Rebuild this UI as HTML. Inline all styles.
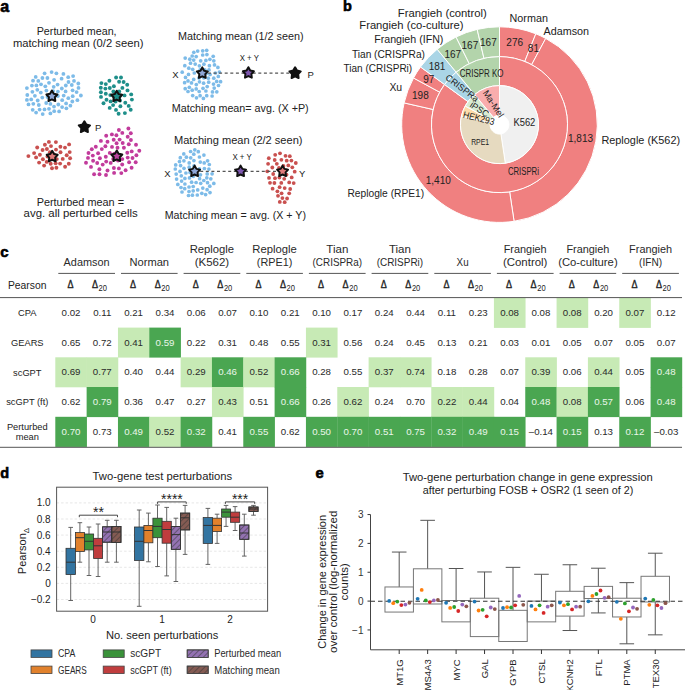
<!DOCTYPE html>
<html><head><meta charset="utf-8"><style>
html,body{margin:0;padding:0;background:#fff;}
svg{display:block;}
text{font-family:"Liberation Sans", sans-serif;}
</style></head><body>
<svg width="685" height="690" viewBox="0 0 685 690">
<rect width="685" height="690" fill="#fff"/>
<text x="0.3" y="11.7" font-size="16" fill="#000" font-weight="bold" stroke="#000" stroke-width="0.6">a</text>
<text x="36.7" y="34.7" font-size="11.2" fill="#222" textLength="79.9" lengthAdjust="spacingAndGlyphs">Perturbed mean,</text>
<text x="12.9" y="47.1" font-size="11.2" fill="#222" textLength="130.5" lengthAdjust="spacingAndGlyphs">matching mean (0/2 seen)</text>
<circle cx="32.7" cy="109.8" r="1.9" fill="#7dbbe8"/>
<circle cx="68.5" cy="82.0" r="1.9" fill="#7dbbe8"/>
<circle cx="53.2" cy="91.1" r="1.9" fill="#7dbbe8"/>
<circle cx="62.1" cy="107.1" r="1.9" fill="#7dbbe8"/>
<circle cx="72.6" cy="90.3" r="1.9" fill="#7dbbe8"/>
<circle cx="50.4" cy="103.9" r="1.9" fill="#7dbbe8"/>
<circle cx="78.5" cy="87.9" r="1.9" fill="#7dbbe8"/>
<circle cx="37.3" cy="89.8" r="1.9" fill="#7dbbe8"/>
<circle cx="38.3" cy="80.9" r="1.9" fill="#7dbbe8"/>
<circle cx="72.7" cy="96.2" r="1.9" fill="#7dbbe8"/>
<circle cx="61.6" cy="78.7" r="1.9" fill="#7dbbe8"/>
<circle cx="31.9" cy="85.6" r="1.9" fill="#7dbbe8"/>
<circle cx="66.1" cy="103.4" r="1.9" fill="#7dbbe8"/>
<circle cx="72.3" cy="101.5" r="1.9" fill="#7dbbe8"/>
<circle cx="42.3" cy="97.6" r="1.9" fill="#7dbbe8"/>
<circle cx="53.8" cy="97.7" r="1.9" fill="#7dbbe8"/>
<circle cx="34.9" cy="95.8" r="1.9" fill="#7dbbe8"/>
<circle cx="46.4" cy="90.6" r="1.9" fill="#7dbbe8"/>
<circle cx="54.0" cy="106.6" r="1.9" fill="#7dbbe8"/>
<circle cx="47.4" cy="78.0" r="1.9" fill="#7dbbe8"/>
<circle cx="74.0" cy="80.9" r="1.9" fill="#7dbbe8"/>
<circle cx="57.9" cy="91.6" r="1.9" fill="#7dbbe8"/>
<circle cx="45.3" cy="86.3" r="1.9" fill="#7dbbe8"/>
<circle cx="39.6" cy="109.6" r="1.9" fill="#7dbbe8"/>
<circle cx="63.4" cy="73.9" r="1.9" fill="#7dbbe8"/>
<circle cx="31.2" cy="99.4" r="1.9" fill="#7dbbe8"/>
<circle cx="44.6" cy="73.3" r="1.9" fill="#7dbbe8"/>
<circle cx="65.6" cy="91.4" r="1.9" fill="#7dbbe8"/>
<circle cx="54.1" cy="79.8" r="1.9" fill="#7dbbe8"/>
<circle cx="33.3" cy="103.8" r="1.9" fill="#7dbbe8"/>
<circle cx="63.7" cy="95.6" r="1.9" fill="#7dbbe8"/>
<circle cx="37.7" cy="100.5" r="1.9" fill="#7dbbe8"/>
<circle cx="47.5" cy="97.1" r="1.9" fill="#7dbbe8"/>
<circle cx="42.7" cy="114.1" r="1.9" fill="#7dbbe8"/>
<circle cx="36.4" cy="85.4" r="1.9" fill="#7dbbe8"/>
<circle cx="68.3" cy="98.2" r="1.9" fill="#7dbbe8"/>
<circle cx="38.8" cy="105.0" r="1.9" fill="#7dbbe8"/>
<circle cx="80.9" cy="95.5" r="1.9" fill="#7dbbe8"/>
<circle cx="62.2" cy="100.2" r="1.9" fill="#7dbbe8"/>
<circle cx="56.4" cy="73.3" r="1.9" fill="#7dbbe8"/>
<circle cx="71.8" cy="85.0" r="1.9" fill="#7dbbe8"/>
<circle cx="54.2" cy="111.2" r="1.9" fill="#7dbbe8"/>
<circle cx="46.2" cy="103.0" r="1.9" fill="#7dbbe8"/>
<circle cx="50.4" cy="113.4" r="1.9" fill="#7dbbe8"/>
<circle cx="57.6" cy="84.6" r="1.9" fill="#7dbbe8"/>
<circle cx="53.7" cy="86.8" r="1.9" fill="#7dbbe8"/>
<circle cx="59.1" cy="111.4" r="1.9" fill="#7dbbe8"/>
<circle cx="42.4" cy="78.0" r="1.9" fill="#7dbbe8"/>
<circle cx="58.3" cy="104.5" r="1.9" fill="#7dbbe8"/>
<circle cx="51.6" cy="72.1" r="1.9" fill="#7dbbe8"/>
<circle cx="44.5" cy="109.4" r="1.9" fill="#7dbbe8"/>
<circle cx="65.8" cy="85.5" r="1.9" fill="#7dbbe8"/>
<circle cx="68.2" cy="77.2" r="1.9" fill="#7dbbe8"/>
<circle cx="32.4" cy="91.8" r="1.9" fill="#7dbbe8"/>
<circle cx="27.3" cy="95.0" r="1.9" fill="#7dbbe8"/>
<circle cx="26.9" cy="88.1" r="1.9" fill="#7dbbe8"/>
<circle cx="66.4" cy="108.3" r="1.9" fill="#7dbbe8"/>
<circle cx="77.4" cy="100.2" r="1.9" fill="#7dbbe8"/>
<circle cx="57.9" cy="96.0" r="1.9" fill="#7dbbe8"/>
<circle cx="49.0" cy="82.8" r="1.9" fill="#7dbbe8"/>
<circle cx="61.8" cy="88.5" r="1.9" fill="#7dbbe8"/>
<circle cx="76.6" cy="92.1" r="1.9" fill="#7dbbe8"/>
<circle cx="40.8" cy="92.6" r="1.9" fill="#7dbbe8"/>
<circle cx="28.5" cy="104.4" r="1.9" fill="#7dbbe8"/>
<circle cx="33.0" cy="80.7" r="1.9" fill="#7dbbe8"/>
<circle cx="26.9" cy="99.9" r="1.9" fill="#7dbbe8"/>
<circle cx="36.1" cy="112.6" r="1.9" fill="#7dbbe8"/>
<circle cx="73.1" cy="76.1" r="1.9" fill="#7dbbe8"/>
<circle cx="41.0" cy="84.3" r="1.9" fill="#7dbbe8"/>
<circle cx="70.4" cy="105.7" r="1.9" fill="#7dbbe8"/>
<circle cx="49.0" cy="108.8" r="1.9" fill="#7dbbe8"/>
<circle cx="35.7" cy="76.9" r="1.9" fill="#7dbbe8"/>
<circle cx="78.3" cy="83.5" r="1.9" fill="#7dbbe8"/>
<polygon points="51.90,90.52 53.73,93.77 57.40,94.51 54.87,97.26 55.30,100.98 51.90,99.42 48.50,100.98 48.93,97.26 46.40,94.51 50.07,93.77" fill="#8ea6d6" stroke="#111" stroke-width="2.0" stroke-linejoin="round"/>
<circle cx="128.7" cy="105.9" r="1.95" fill="#1e8f8a"/>
<circle cx="122.4" cy="87.9" r="1.95" fill="#1e8f8a"/>
<circle cx="120.0" cy="100.5" r="1.95" fill="#1e8f8a"/>
<circle cx="119.1" cy="81.7" r="1.95" fill="#1e8f8a"/>
<circle cx="113.4" cy="91.5" r="1.95" fill="#1e8f8a"/>
<circle cx="113.9" cy="86.3" r="1.95" fill="#1e8f8a"/>
<circle cx="109.4" cy="80.7" r="1.95" fill="#1e8f8a"/>
<circle cx="124.9" cy="113.1" r="1.95" fill="#1e8f8a"/>
<circle cx="114.5" cy="97.3" r="1.95" fill="#1e8f8a"/>
<circle cx="116.0" cy="109.9" r="1.95" fill="#1e8f8a"/>
<circle cx="131.2" cy="94.4" r="1.95" fill="#1e8f8a"/>
<circle cx="118.6" cy="113.7" r="1.95" fill="#1e8f8a"/>
<circle cx="124.5" cy="95.4" r="1.95" fill="#1e8f8a"/>
<circle cx="105.4" cy="88.6" r="1.95" fill="#1e8f8a"/>
<circle cx="123.6" cy="82.0" r="1.95" fill="#1e8f8a"/>
<circle cx="101.0" cy="96.9" r="1.95" fill="#1e8f8a"/>
<circle cx="113.1" cy="105.1" r="1.95" fill="#1e8f8a"/>
<circle cx="103.5" cy="103.3" r="1.95" fill="#1e8f8a"/>
<circle cx="120.4" cy="106.2" r="1.95" fill="#1e8f8a"/>
<circle cx="119.2" cy="91.5" r="1.95" fill="#1e8f8a"/>
<circle cx="105.8" cy="93.7" r="1.95" fill="#1e8f8a"/>
<circle cx="106.5" cy="99.8" r="1.95" fill="#1e8f8a"/>
<circle cx="105.8" cy="84.1" r="1.95" fill="#1e8f8a"/>
<circle cx="127.5" cy="90.4" r="1.95" fill="#1e8f8a"/>
<circle cx="100.8" cy="87.8" r="1.95" fill="#1e8f8a"/>
<circle cx="131.9" cy="99.6" r="1.95" fill="#1e8f8a"/>
<circle cx="125.3" cy="102.7" r="1.95" fill="#1e8f8a"/>
<circle cx="127.2" cy="84.8" r="1.95" fill="#1e8f8a"/>
<circle cx="116.1" cy="77.5" r="1.95" fill="#1e8f8a"/>
<circle cx="109.8" cy="88.0" r="1.95" fill="#1e8f8a"/>
<circle cx="109.7" cy="107.9" r="1.95" fill="#1e8f8a"/>
<circle cx="100.9" cy="92.3" r="1.95" fill="#1e8f8a"/>
<circle cx="110.3" cy="95.1" r="1.95" fill="#1e8f8a"/>
<circle cx="110.6" cy="101.4" r="1.95" fill="#1e8f8a"/>
<circle cx="121.0" cy="77.5" r="1.95" fill="#1e8f8a"/>
<circle cx="130.7" cy="109.8" r="1.95" fill="#1e8f8a"/>
<circle cx="119.6" cy="96.0" r="1.95" fill="#1e8f8a"/>
<circle cx="101.4" cy="83.1" r="1.95" fill="#1e8f8a"/>
<circle cx="115.6" cy="101.5" r="1.95" fill="#1e8f8a"/>
<polygon points="116.70,90.72 118.53,93.97 122.20,94.71 119.67,97.46 120.10,101.18 116.70,99.62 113.30,101.18 113.73,97.46 111.20,94.71 114.87,93.97" fill="#1e8f8a" stroke="#111" stroke-width="2.0" stroke-linejoin="round"/>
<polygon points="84.40,121.25 86.29,124.60 90.06,125.36 87.46,128.19 87.90,132.01 84.40,130.41 80.90,132.01 81.34,128.19 78.74,125.36 82.51,124.60" fill="#111" stroke="#111" stroke-width="2.0" stroke-linejoin="round"/>
<text x="95.0" y="130.5" font-size="9.5" fill="#222">P</text>
<circle cx="36.1" cy="157.4" r="1.95" fill="#c9504f"/>
<circle cx="42.9" cy="159.3" r="1.95" fill="#c9504f"/>
<circle cx="55.9" cy="142.1" r="1.95" fill="#c9504f"/>
<circle cx="37.2" cy="147.5" r="1.95" fill="#c9504f"/>
<circle cx="66.7" cy="155.2" r="1.95" fill="#c9504f"/>
<circle cx="56.4" cy="167.8" r="1.95" fill="#c9504f"/>
<circle cx="50.7" cy="163.7" r="1.95" fill="#c9504f"/>
<circle cx="62.7" cy="158.9" r="1.95" fill="#c9504f"/>
<circle cx="44.1" cy="165.6" r="1.95" fill="#c9504f"/>
<circle cx="56.0" cy="149.6" r="1.95" fill="#c9504f"/>
<circle cx="49.9" cy="152.3" r="1.95" fill="#c9504f"/>
<circle cx="70.1" cy="158.2" r="1.95" fill="#c9504f"/>
<circle cx="60.4" cy="146.8" r="1.95" fill="#c9504f"/>
<circle cx="44.9" cy="144.8" r="1.95" fill="#c9504f"/>
<circle cx="34.1" cy="153.1" r="1.95" fill="#c9504f"/>
<circle cx="69.7" cy="152.1" r="1.95" fill="#c9504f"/>
<circle cx="47.5" cy="156.6" r="1.95" fill="#c9504f"/>
<circle cx="56.8" cy="159.1" r="1.95" fill="#c9504f"/>
<circle cx="60.1" cy="163.6" r="1.95" fill="#c9504f"/>
<circle cx="42.6" cy="150.0" r="1.95" fill="#c9504f"/>
<circle cx="65.0" cy="147.6" r="1.95" fill="#c9504f"/>
<circle cx="51.0" cy="146.1" r="1.95" fill="#c9504f"/>
<circle cx="65.1" cy="166.8" r="1.95" fill="#c9504f"/>
<circle cx="28.4" cy="156.1" r="1.95" fill="#c9504f"/>
<circle cx="60.5" cy="152.2" r="1.95" fill="#c9504f"/>
<circle cx="39.1" cy="162.6" r="1.95" fill="#c9504f"/>
<circle cx="52.2" cy="158.7" r="1.95" fill="#c9504f"/>
<circle cx="39.9" cy="154.8" r="1.95" fill="#c9504f"/>
<circle cx="52.0" cy="168.3" r="1.95" fill="#c9504f"/>
<circle cx="69.1" cy="144.4" r="1.95" fill="#c9504f"/>
<circle cx="68.8" cy="163.7" r="1.95" fill="#c9504f"/>
<circle cx="54.0" cy="154.4" r="1.95" fill="#c9504f"/>
<circle cx="48.9" cy="141.9" r="1.95" fill="#c9504f"/>
<circle cx="46.9" cy="149.0" r="1.95" fill="#c9504f"/>
<circle cx="55.6" cy="163.3" r="1.95" fill="#c9504f"/>
<circle cx="46.7" cy="161.9" r="1.95" fill="#c9504f"/>
<polygon points="52.20,150.82 54.03,154.07 57.70,154.81 55.17,157.56 55.60,161.28 52.20,159.72 48.80,161.28 49.23,157.56 46.70,154.81 50.37,154.07" fill="#e07b7b" stroke="#111" stroke-width="2.0" stroke-linejoin="round"/>
<circle cx="127.7" cy="136.8" r="1.95" fill="#c23b9c"/>
<circle cx="113.7" cy="139.7" r="1.95" fill="#c23b9c"/>
<circle cx="94.1" cy="174.2" r="1.95" fill="#c23b9c"/>
<circle cx="131.6" cy="167.8" r="1.95" fill="#c23b9c"/>
<circle cx="99.9" cy="158.2" r="1.95" fill="#c23b9c"/>
<circle cx="125.6" cy="170.3" r="1.95" fill="#c23b9c"/>
<circle cx="118.0" cy="160.6" r="1.95" fill="#c23b9c"/>
<circle cx="111.9" cy="134.4" r="1.95" fill="#c23b9c"/>
<circle cx="136.4" cy="155.3" r="1.95" fill="#c23b9c"/>
<circle cx="112.0" cy="146.9" r="1.95" fill="#c23b9c"/>
<circle cx="117.5" cy="147.8" r="1.95" fill="#c23b9c"/>
<circle cx="98.1" cy="153.3" r="1.95" fill="#c23b9c"/>
<circle cx="106.2" cy="135.7" r="1.95" fill="#c23b9c"/>
<circle cx="119.6" cy="139.6" r="1.95" fill="#c23b9c"/>
<circle cx="102.7" cy="164.6" r="1.95" fill="#c23b9c"/>
<circle cx="127.7" cy="157.6" r="1.95" fill="#c23b9c"/>
<circle cx="91.8" cy="149.3" r="1.95" fill="#c23b9c"/>
<circle cx="106.0" cy="175.0" r="1.95" fill="#c23b9c"/>
<circle cx="118.9" cy="168.4" r="1.95" fill="#c23b9c"/>
<circle cx="128.8" cy="144.2" r="1.95" fill="#c23b9c"/>
<circle cx="122.3" cy="132.9" r="1.95" fill="#c23b9c"/>
<circle cx="88.5" cy="153.0" r="1.95" fill="#c23b9c"/>
<circle cx="95.8" cy="146.8" r="1.95" fill="#c23b9c"/>
<circle cx="131.7" cy="151.4" r="1.95" fill="#c23b9c"/>
<circle cx="119.7" cy="155.2" r="1.95" fill="#c23b9c"/>
<circle cx="109.8" cy="152.9" r="1.95" fill="#c23b9c"/>
<circle cx="88.0" cy="157.9" r="1.95" fill="#c23b9c"/>
<circle cx="107.5" cy="170.5" r="1.95" fill="#c23b9c"/>
<circle cx="128.4" cy="128.5" r="1.95" fill="#c23b9c"/>
<circle cx="99.4" cy="169.3" r="1.95" fill="#c23b9c"/>
<circle cx="114.1" cy="172.9" r="1.95" fill="#c23b9c"/>
<circle cx="110.7" cy="162.9" r="1.95" fill="#c23b9c"/>
<circle cx="136.0" cy="144.7" r="1.95" fill="#c23b9c"/>
<circle cx="118.9" cy="130.0" r="1.95" fill="#c23b9c"/>
<circle cx="100.9" cy="140.9" r="1.95" fill="#c23b9c"/>
<circle cx="122.2" cy="164.5" r="1.95" fill="#c23b9c"/>
<circle cx="99.5" cy="174.2" r="1.95" fill="#c23b9c"/>
<circle cx="105.8" cy="156.7" r="1.95" fill="#c23b9c"/>
<circle cx="135.7" cy="162.3" r="1.95" fill="#c23b9c"/>
<circle cx="105.4" cy="146.2" r="1.95" fill="#c23b9c"/>
<circle cx="130.9" cy="140.0" r="1.95" fill="#c23b9c"/>
<circle cx="91.0" cy="166.9" r="1.95" fill="#c23b9c"/>
<circle cx="86.0" cy="162.8" r="1.95" fill="#c23b9c"/>
<circle cx="132.5" cy="158.0" r="1.95" fill="#c23b9c"/>
<circle cx="129.1" cy="162.3" r="1.95" fill="#c23b9c"/>
<circle cx="101.8" cy="149.1" r="1.95" fill="#c23b9c"/>
<circle cx="121.3" cy="173.1" r="1.95" fill="#c23b9c"/>
<circle cx="114.3" cy="153.7" r="1.95" fill="#c23b9c"/>
<circle cx="107.5" cy="141.7" r="1.95" fill="#c23b9c"/>
<circle cx="127.3" cy="152.8" r="1.95" fill="#c23b9c"/>
<circle cx="97.2" cy="163.0" r="1.95" fill="#c23b9c"/>
<circle cx="123.9" cy="147.7" r="1.95" fill="#c23b9c"/>
<circle cx="122.7" cy="143.0" r="1.95" fill="#c23b9c"/>
<circle cx="130.8" cy="133.3" r="1.95" fill="#c23b9c"/>
<circle cx="93.1" cy="160.8" r="1.95" fill="#c23b9c"/>
<circle cx="139.3" cy="150.8" r="1.95" fill="#c23b9c"/>
<circle cx="92.8" cy="155.6" r="1.95" fill="#c23b9c"/>
<circle cx="113.9" cy="168.0" r="1.95" fill="#c23b9c"/>
<circle cx="113.2" cy="158.9" r="1.95" fill="#c23b9c"/>
<circle cx="122.3" cy="159.1" r="1.95" fill="#c23b9c"/>
<circle cx="116.6" cy="143.2" r="1.95" fill="#c23b9c"/>
<circle cx="116.4" cy="135.2" r="1.95" fill="#c23b9c"/>
<circle cx="106.2" cy="161.6" r="1.95" fill="#c23b9c"/>
<polygon points="116.80,150.52 118.63,153.77 122.30,154.51 119.77,157.26 120.20,160.98 116.80,159.42 113.40,160.98 113.83,157.26 111.30,154.51 114.97,153.77" fill="#b8449e" stroke="#111" stroke-width="2.0" stroke-linejoin="round"/>
<text x="36.7" y="205.5" font-size="11.2" fill="#222" textLength="87.3" lengthAdjust="spacingAndGlyphs">Perturbed mean =</text>
<text x="23.6" y="217.2" font-size="11.2" fill="#222" textLength="114.1" lengthAdjust="spacingAndGlyphs">avg. all perturbed cells</text>
<text x="178.1" y="40.4" font-size="11.2" fill="#222" textLength="125.4" lengthAdjust="spacingAndGlyphs">Matching mean (1/2 seen)</text>
<text x="239.7" y="61.2" font-size="9.6" fill="#222" textLength="19.2" lengthAdjust="spacingAndGlyphs">X + Y</text>
<text x="172.2" y="78.4" font-size="9.5" fill="#222">X</text>
<circle cx="207.2" cy="86.6" r="1.85" fill="#7dbbe8"/>
<circle cx="212.1" cy="96.0" r="1.85" fill="#7dbbe8"/>
<circle cx="182.2" cy="72.2" r="1.85" fill="#7dbbe8"/>
<circle cx="220.6" cy="81.7" r="1.85" fill="#7dbbe8"/>
<circle cx="200.7" cy="60.8" r="1.85" fill="#7dbbe8"/>
<circle cx="203.8" cy="77.8" r="1.85" fill="#7dbbe8"/>
<circle cx="192.7" cy="95.6" r="1.85" fill="#7dbbe8"/>
<circle cx="213.2" cy="56.3" r="1.85" fill="#7dbbe8"/>
<circle cx="206.9" cy="54.6" r="1.85" fill="#7dbbe8"/>
<circle cx="189.8" cy="59.2" r="1.85" fill="#7dbbe8"/>
<circle cx="203.6" cy="83.2" r="1.85" fill="#7dbbe8"/>
<circle cx="196.2" cy="56.6" r="1.85" fill="#7dbbe8"/>
<circle cx="193.7" cy="79.4" r="1.85" fill="#7dbbe8"/>
<circle cx="195.2" cy="64.1" r="1.85" fill="#7dbbe8"/>
<circle cx="215.4" cy="73.0" r="1.85" fill="#7dbbe8"/>
<circle cx="194.3" cy="73.0" r="1.85" fill="#7dbbe8"/>
<circle cx="212.5" cy="91.9" r="1.85" fill="#7dbbe8"/>
<circle cx="189.3" cy="87.3" r="1.85" fill="#7dbbe8"/>
<circle cx="203.0" cy="88.3" r="1.85" fill="#7dbbe8"/>
<circle cx="184.8" cy="65.7" r="1.85" fill="#7dbbe8"/>
<circle cx="206.7" cy="95.7" r="1.85" fill="#7dbbe8"/>
<circle cx="203.9" cy="64.2" r="1.85" fill="#7dbbe8"/>
<circle cx="205.9" cy="91.0" r="1.85" fill="#7dbbe8"/>
<circle cx="200.1" cy="69.9" r="1.85" fill="#7dbbe8"/>
<circle cx="196.2" cy="88.9" r="1.85" fill="#7dbbe8"/>
<circle cx="213.5" cy="84.1" r="1.85" fill="#7dbbe8"/>
<circle cx="196.3" cy="84.6" r="1.85" fill="#7dbbe8"/>
<circle cx="208.3" cy="78.2" r="1.85" fill="#7dbbe8"/>
<circle cx="191.5" cy="82.9" r="1.85" fill="#7dbbe8"/>
<circle cx="188.0" cy="91.5" r="1.85" fill="#7dbbe8"/>
<circle cx="213.8" cy="78.2" r="1.85" fill="#7dbbe8"/>
<circle cx="209.0" cy="69.9" r="1.85" fill="#7dbbe8"/>
<circle cx="199.5" cy="81.8" r="1.85" fill="#7dbbe8"/>
<circle cx="192.7" cy="69.3" r="1.85" fill="#7dbbe8"/>
<circle cx="185.5" cy="77.4" r="1.85" fill="#7dbbe8"/>
<circle cx="190.5" cy="63.2" r="1.85" fill="#7dbbe8"/>
<circle cx="213.8" cy="60.8" r="1.85" fill="#7dbbe8"/>
<circle cx="192.2" cy="56.0" r="1.85" fill="#7dbbe8"/>
<circle cx="200.1" cy="95.7" r="1.85" fill="#7dbbe8"/>
<circle cx="218.3" cy="76.4" r="1.85" fill="#7dbbe8"/>
<circle cx="199.0" cy="77.9" r="1.85" fill="#7dbbe8"/>
<circle cx="206.2" cy="73.5" r="1.85" fill="#7dbbe8"/>
<circle cx="202.7" cy="55.0" r="1.85" fill="#7dbbe8"/>
<circle cx="184.6" cy="82.7" r="1.85" fill="#7dbbe8"/>
<circle cx="205.9" cy="60.4" r="1.85" fill="#7dbbe8"/>
<circle cx="197.7" cy="51.1" r="1.85" fill="#7dbbe8"/>
<circle cx="188.5" cy="74.4" r="1.85" fill="#7dbbe8"/>
<circle cx="192.2" cy="90.2" r="1.85" fill="#7dbbe8"/>
<circle cx="219.4" cy="72.0" r="1.85" fill="#7dbbe8"/>
<circle cx="203.4" cy="98.4" r="1.85" fill="#7dbbe8"/>
<circle cx="214.5" cy="64.9" r="1.85" fill="#7dbbe8"/>
<circle cx="188.8" cy="68.2" r="1.85" fill="#7dbbe8"/>
<circle cx="188.0" cy="80.9" r="1.85" fill="#7dbbe8"/>
<circle cx="185.2" cy="58.1" r="1.85" fill="#7dbbe8"/>
<circle cx="202.7" cy="50.8" r="1.85" fill="#7dbbe8"/>
<circle cx="218.5" cy="85.5" r="1.85" fill="#7dbbe8"/>
<circle cx="209.4" cy="65.7" r="1.85" fill="#7dbbe8"/>
<circle cx="214.2" cy="88.1" r="1.85" fill="#7dbbe8"/>
<circle cx="209.9" cy="59.3" r="1.85" fill="#7dbbe8"/>
<circle cx="208.7" cy="82.2" r="1.85" fill="#7dbbe8"/>
<circle cx="210.1" cy="74.5" r="1.85" fill="#7dbbe8"/>
<circle cx="216.8" cy="91.8" r="1.85" fill="#7dbbe8"/>
<circle cx="206.7" cy="50.3" r="1.85" fill="#7dbbe8"/>
<circle cx="201.7" cy="73.7" r="1.85" fill="#7dbbe8"/>
<circle cx="193.8" cy="52.3" r="1.85" fill="#7dbbe8"/>
<circle cx="217.9" cy="67.4" r="1.85" fill="#7dbbe8"/>
<circle cx="196.5" cy="97.8" r="1.85" fill="#7dbbe8"/>
<circle cx="199.4" cy="65.8" r="1.85" fill="#7dbbe8"/>
<circle cx="204.8" cy="69.8" r="1.85" fill="#7dbbe8"/>
<circle cx="185.2" cy="88.7" r="1.85" fill="#7dbbe8"/>
<circle cx="193.7" cy="60.1" r="1.85" fill="#7dbbe8"/>
<circle cx="199.2" cy="91.5" r="1.85" fill="#7dbbe8"/>
<circle cx="216.7" cy="81.4" r="1.85" fill="#7dbbe8"/>
<line x1="202.3" y1="73.2" x2="295.1" y2="73.2" stroke="#555" stroke-width="1.3" stroke-dasharray="3,2.6"/>
<polygon points="202.30,67.42 204.13,70.67 207.80,71.41 205.27,74.16 205.70,77.88 202.30,76.32 198.90,77.88 199.33,74.16 196.80,71.41 200.47,70.67" fill="#8ea6d6" stroke="#111" stroke-width="2.0" stroke-linejoin="round"/>
<polygon points="248.40,67.22 250.23,70.47 253.90,71.21 251.37,73.96 251.80,77.68 248.40,76.12 245.00,77.68 245.43,73.96 242.90,71.21 246.57,70.47" fill="#7e57b0" stroke="#111" stroke-width="2.0" stroke-linejoin="round"/>
<polygon points="295.10,67.25 296.99,70.60 300.76,71.36 298.16,74.19 298.60,78.01 295.10,76.41 291.60,78.01 292.04,74.19 289.44,71.36 293.21,70.60" fill="#111" stroke="#111" stroke-width="2.0" stroke-linejoin="round"/>
<text x="307.5" y="78.0" font-size="9.5" fill="#222">P</text>
<text x="171.8" y="111.6" font-size="11.2" fill="#222" textLength="136.9" lengthAdjust="spacingAndGlyphs">Matching mean= avg. (X +P)</text>
<text x="174.0" y="144.0" font-size="11.2" fill="#222" textLength="128.5" lengthAdjust="spacingAndGlyphs">Matching mean (2/2 seen)</text>
<text x="232.4" y="160.2" font-size="9.6" fill="#222" textLength="19.4" lengthAdjust="spacingAndGlyphs">X + Y</text>
<text x="164.2" y="177.2" font-size="9.5" fill="#222">X</text>
<circle cx="207.1" cy="189.7" r="1.85" fill="#7dbbe8"/>
<circle cx="193.9" cy="160.6" r="1.85" fill="#7dbbe8"/>
<circle cx="193.2" cy="186.5" r="1.85" fill="#7dbbe8"/>
<circle cx="189.0" cy="187.0" r="1.85" fill="#7dbbe8"/>
<circle cx="184.7" cy="188.7" r="1.85" fill="#7dbbe8"/>
<circle cx="204.4" cy="168.5" r="1.85" fill="#7dbbe8"/>
<circle cx="196.1" cy="182.5" r="1.85" fill="#7dbbe8"/>
<circle cx="181.3" cy="175.8" r="1.85" fill="#7dbbe8"/>
<circle cx="207.6" cy="160.8" r="1.85" fill="#7dbbe8"/>
<circle cx="207.5" cy="182.7" r="1.85" fill="#7dbbe8"/>
<circle cx="209.3" cy="164.5" r="1.85" fill="#7dbbe8"/>
<circle cx="200.3" cy="162.1" r="1.85" fill="#7dbbe8"/>
<circle cx="181.6" cy="181.1" r="1.85" fill="#7dbbe8"/>
<circle cx="188.5" cy="195.5" r="1.85" fill="#7dbbe8"/>
<circle cx="212.1" cy="173.8" r="1.85" fill="#7dbbe8"/>
<circle cx="200.7" cy="183.3" r="1.85" fill="#7dbbe8"/>
<circle cx="198.3" cy="151.7" r="1.85" fill="#7dbbe8"/>
<circle cx="186.4" cy="157.2" r="1.85" fill="#7dbbe8"/>
<circle cx="193.8" cy="154.2" r="1.85" fill="#7dbbe8"/>
<circle cx="182.0" cy="192.0" r="1.85" fill="#7dbbe8"/>
<circle cx="189.2" cy="167.2" r="1.85" fill="#7dbbe8"/>
<circle cx="175.3" cy="169.0" r="1.85" fill="#7dbbe8"/>
<circle cx="201.8" cy="193.3" r="1.85" fill="#7dbbe8"/>
<circle cx="207.2" cy="173.9" r="1.85" fill="#7dbbe8"/>
<circle cx="190.6" cy="151.5" r="1.85" fill="#7dbbe8"/>
<circle cx="192.4" cy="195.2" r="1.85" fill="#7dbbe8"/>
<circle cx="184.0" cy="168.3" r="1.85" fill="#7dbbe8"/>
<circle cx="210.8" cy="178.8" r="1.85" fill="#7dbbe8"/>
<circle cx="189.2" cy="162.9" r="1.85" fill="#7dbbe8"/>
<circle cx="190.1" cy="172.4" r="1.85" fill="#7dbbe8"/>
<circle cx="177.8" cy="184.4" r="1.85" fill="#7dbbe8"/>
<circle cx="199.4" cy="168.9" r="1.85" fill="#7dbbe8"/>
<circle cx="194.1" cy="171.4" r="1.85" fill="#7dbbe8"/>
<circle cx="176.6" cy="179.1" r="1.85" fill="#7dbbe8"/>
<circle cx="202.8" cy="188.1" r="1.85" fill="#7dbbe8"/>
<circle cx="184.9" cy="184.0" r="1.85" fill="#7dbbe8"/>
<circle cx="200.5" cy="174.8" r="1.85" fill="#7dbbe8"/>
<circle cx="213.8" cy="183.4" r="1.85" fill="#7dbbe8"/>
<circle cx="176.2" cy="174.1" r="1.85" fill="#7dbbe8"/>
<circle cx="179.5" cy="161.6" r="1.85" fill="#7dbbe8"/>
<circle cx="203.8" cy="180.5" r="1.85" fill="#7dbbe8"/>
<circle cx="197.3" cy="195.0" r="1.85" fill="#7dbbe8"/>
<circle cx="189.5" cy="177.9" r="1.85" fill="#7dbbe8"/>
<circle cx="193.2" cy="190.8" r="1.85" fill="#7dbbe8"/>
<circle cx="183.8" cy="153.9" r="1.85" fill="#7dbbe8"/>
<circle cx="189.0" cy="191.5" r="1.85" fill="#7dbbe8"/>
<circle cx="194.0" cy="165.9" r="1.85" fill="#7dbbe8"/>
<circle cx="203.9" cy="155.1" r="1.85" fill="#7dbbe8"/>
<circle cx="199.6" cy="178.7" r="1.85" fill="#7dbbe8"/>
<circle cx="183.9" cy="160.8" r="1.85" fill="#7dbbe8"/>
<circle cx="199.4" cy="157.0" r="1.85" fill="#7dbbe8"/>
<circle cx="209.8" cy="186.2" r="1.85" fill="#7dbbe8"/>
<circle cx="180.6" cy="165.6" r="1.85" fill="#7dbbe8"/>
<circle cx="191.6" cy="182.2" r="1.85" fill="#7dbbe8"/>
<circle cx="185.9" cy="173.0" r="1.85" fill="#7dbbe8"/>
<circle cx="208.9" cy="169.1" r="1.85" fill="#7dbbe8"/>
<circle cx="190.7" cy="157.8" r="1.85" fill="#7dbbe8"/>
<circle cx="184.9" cy="178.4" r="1.85" fill="#7dbbe8"/>
<circle cx="197.7" cy="189.9" r="1.85" fill="#7dbbe8"/>
<circle cx="205.6" cy="194.6" r="1.85" fill="#7dbbe8"/>
<circle cx="193.3" cy="176.3" r="1.85" fill="#7dbbe8"/>
<circle cx="204.2" cy="162.9" r="1.85" fill="#7dbbe8"/>
<circle cx="206.8" cy="177.8" r="1.85" fill="#7dbbe8"/>
<circle cx="181.0" cy="187.5" r="1.85" fill="#7dbbe8"/>
<circle cx="180.0" cy="171.4" r="1.85" fill="#7dbbe8"/>
<circle cx="194.8" cy="149.8" r="1.85" fill="#7dbbe8"/>
<circle cx="175.7" cy="164.9" r="1.85" fill="#7dbbe8"/>
<circle cx="180.3" cy="157.7" r="1.85" fill="#7dbbe8"/>
<circle cx="210.0" cy="192.6" r="1.85" fill="#7dbbe8"/>
<circle cx="274.7" cy="160.0" r="1.9" fill="#c9504f"/>
<circle cx="285.5" cy="155.8" r="1.9" fill="#c9504f"/>
<circle cx="281.7" cy="171.4" r="1.9" fill="#c9504f"/>
<circle cx="278.0" cy="195.8" r="1.9" fill="#c9504f"/>
<circle cx="268.1" cy="163.8" r="1.9" fill="#c9504f"/>
<circle cx="284.7" cy="202.2" r="1.9" fill="#c9504f"/>
<circle cx="292.3" cy="167.3" r="1.9" fill="#c9504f"/>
<circle cx="268.8" cy="158.2" r="1.9" fill="#c9504f"/>
<circle cx="270.0" cy="182.8" r="1.9" fill="#c9504f"/>
<circle cx="286.5" cy="174.7" r="1.9" fill="#c9504f"/>
<circle cx="274.4" cy="183.0" r="1.9" fill="#c9504f"/>
<circle cx="279.0" cy="167.9" r="1.9" fill="#c9504f"/>
<circle cx="290.2" cy="189.0" r="1.9" fill="#c9504f"/>
<circle cx="269.0" cy="177.9" r="1.9" fill="#c9504f"/>
<circle cx="289.2" cy="182.4" r="1.9" fill="#c9504f"/>
<circle cx="279.6" cy="187.2" r="1.9" fill="#c9504f"/>
<circle cx="273.2" cy="174.0" r="1.9" fill="#c9504f"/>
<circle cx="283.4" cy="165.9" r="1.9" fill="#c9504f"/>
<circle cx="275.2" cy="154.8" r="1.9" fill="#c9504f"/>
<circle cx="267.3" cy="171.3" r="1.9" fill="#c9504f"/>
<circle cx="279.4" cy="177.6" r="1.9" fill="#c9504f"/>
<circle cx="291.4" cy="160.6" r="1.9" fill="#c9504f"/>
<circle cx="281.4" cy="159.8" r="1.9" fill="#c9504f"/>
<circle cx="281.6" cy="193.3" r="1.9" fill="#c9504f"/>
<circle cx="272.6" cy="188.7" r="1.9" fill="#c9504f"/>
<circle cx="291.7" cy="177.4" r="1.9" fill="#c9504f"/>
<circle cx="272.3" cy="167.5" r="1.9" fill="#c9504f"/>
<circle cx="284.2" cy="178.8" r="1.9" fill="#c9504f"/>
<circle cx="279.8" cy="201.9" r="1.9" fill="#c9504f"/>
<circle cx="287.1" cy="198.5" r="1.9" fill="#c9504f"/>
<circle cx="284.7" cy="188.1" r="1.9" fill="#c9504f"/>
<circle cx="288.3" cy="165.4" r="1.9" fill="#c9504f"/>
<circle cx="280.0" cy="153.3" r="1.9" fill="#c9504f"/>
<circle cx="281.3" cy="182.9" r="1.9" fill="#c9504f"/>
<circle cx="276.8" cy="163.8" r="1.9" fill="#c9504f"/>
<circle cx="295.8" cy="163.0" r="1.9" fill="#c9504f"/>
<circle cx="289.8" cy="156.2" r="1.9" fill="#c9504f"/>
<circle cx="294.7" cy="171.7" r="1.9" fill="#c9504f"/>
<circle cx="289.2" cy="193.3" r="1.9" fill="#c9504f"/>
<circle cx="277.4" cy="191.3" r="1.9" fill="#c9504f"/>
<circle cx="282.4" cy="198.1" r="1.9" fill="#c9504f"/>
<circle cx="285.9" cy="170.1" r="1.9" fill="#c9504f"/>
<circle cx="293.7" cy="183.1" r="1.9" fill="#c9504f"/>
<circle cx="286.7" cy="160.7" r="1.9" fill="#c9504f"/>
<circle cx="275.0" cy="178.2" r="1.9" fill="#c9504f"/>
<line x1="194.6" y1="171.4" x2="282.6" y2="171.4" stroke="#555" stroke-width="1.3" stroke-dasharray="3,2.6"/>
<polygon points="194.60,165.62 196.43,168.87 200.10,169.61 197.57,172.36 198.00,176.08 194.60,174.52 191.20,176.08 191.63,172.36 189.10,169.61 192.77,168.87" fill="#8ea6d6" stroke="#111" stroke-width="2.0" stroke-linejoin="round"/>
<polygon points="240.60,165.62 242.43,168.87 246.10,169.61 243.57,172.36 244.00,176.08 240.60,174.52 237.20,176.08 237.63,172.36 235.10,169.61 238.77,168.87" fill="#7e57b0" stroke="#111" stroke-width="2.0" stroke-linejoin="round"/>
<polygon points="282.60,165.62 284.43,168.87 288.10,169.61 285.57,172.36 286.00,176.08 282.60,174.52 279.20,176.08 279.63,172.36 277.10,169.61 280.77,168.87" fill="#e07b7b" stroke="#111" stroke-width="2.0" stroke-linejoin="round"/>
<text x="299.0" y="177.2" font-size="9.5" fill="#222">Y</text>
<text x="164.7" y="219.3" font-size="11.2" fill="#222" textLength="141.3" lengthAdjust="spacingAndGlyphs">Matching mean = avg. (X + Y)</text>
<text x="343.0" y="11.4" font-size="14.5" fill="#000" font-weight="bold" stroke="#000" stroke-width="0.6">b</text>
<path d="M499.50,26.80 A97.8,97.8 0 0 1 535.83,33.80 L524.76,61.46 A68.0,68.0 0 0 0 499.50,56.60 Z" fill="#f08080" stroke="#fff" stroke-width="1"/>
<path d="M535.83,33.80 A97.8,97.8 0 0 1 545.72,38.41 L531.64,64.67 A68.0,68.0 0 0 0 524.76,61.46 Z" fill="#f08080" stroke="#fff" stroke-width="1"/>
<path d="M545.72,38.41 A97.8,97.8 0 0 1 514.08,221.31 L509.63,191.84 A68.0,68.0 0 0 0 531.64,64.67 Z" fill="#f08080" stroke="#fff" stroke-width="1"/>
<path d="M514.08,221.31 A97.8,97.8 0 0 1 404.14,102.90 L433.19,109.51 A68.0,68.0 0 0 0 509.63,191.84 Z" fill="#f08080" stroke="#fff" stroke-width="1"/>
<path d="M404.14,102.90 A97.8,97.8 0 0 1 413.52,77.99 L439.72,92.20 A68.0,68.0 0 0 0 433.19,109.51 Z" fill="#f08080" stroke="#fff" stroke-width="1"/>
<path d="M413.52,77.99 A97.8,97.8 0 0 1 420.50,66.95 L444.57,84.51 A68.0,68.0 0 0 0 439.72,92.20 Z" fill="#f08080" stroke="#fff" stroke-width="1"/>
<path d="M420.50,66.95 A97.8,97.8 0 0 1 437.19,49.22 L456.17,72.19 A68.0,68.0 0 0 0 444.57,84.51 Z" fill="#aad5e6" stroke="#fff" stroke-width="1"/>
<path d="M437.19,49.22 A97.8,97.8 0 0 1 456.04,36.99 L469.28,63.68 A68.0,68.0 0 0 0 456.17,72.19 Z" fill="#b3d4ab" stroke="#fff" stroke-width="1"/>
<path d="M456.04,36.99 A97.8,97.8 0 0 1 477.18,29.38 L483.98,58.39 A68.0,68.0 0 0 0 469.28,63.68 Z" fill="#b3d4ab" stroke="#fff" stroke-width="1"/>
<path d="M477.18,29.38 A97.8,97.8 0 0 1 499.50,26.80 L499.50,56.60 A68.0,68.0 0 0 0 483.98,58.39 Z" fill="#b3d4ab" stroke="#fff" stroke-width="1"/>
<path d="M499.50,56.60 A68.0,68.0 0 1 1 444.57,84.51 L468.00,101.61 A39.0,39.0 0 1 0 499.50,85.60 Z" fill="#f08080" stroke="#fff" stroke-width="1"/>
<path d="M444.57,84.51 A68.0,68.0 0 0 1 456.17,72.19 L474.65,94.54 A39.0,39.0 0 0 0 468.00,101.61 Z" fill="#aad5e6" stroke="#fff" stroke-width="1"/>
<path d="M456.17,72.19 A68.0,68.0 0 0 1 499.50,56.60 L499.50,85.60 A39.0,39.0 0 0 0 474.65,94.54 Z" fill="#b3d4ab" stroke="#fff" stroke-width="1"/>
<path d="M499.50,85.60 A39.0,39.0 0 0 1 505.31,163.16 L500.92,133.99 A9.5,9.5 0 0 0 499.50,115.10 Z" fill="#f0f0f0" stroke="#fff" stroke-width="1"/>
<path d="M505.31,163.16 A39.0,39.0 0 0 1 461.47,115.95 L490.24,122.49 A9.5,9.5 0 0 0 500.92,133.99 Z" fill="#e6dac0" stroke="#fff" stroke-width="1"/>
<path d="M461.47,115.95 A39.0,39.0 0 0 1 465.21,106.02 L491.15,120.07 A9.5,9.5 0 0 0 490.24,122.49 Z" fill="#fddcaa" stroke="#fff" stroke-width="1"/>
<path d="M465.21,106.02 A39.0,39.0 0 0 1 474.65,94.54 L493.45,117.28 A9.5,9.5 0 0 0 491.15,120.07 Z" fill="#d9ebd3" stroke="#fff" stroke-width="1"/>
<path d="M474.65,94.54 A39.0,39.0 0 0 1 499.50,85.60 L499.50,115.10 A9.5,9.5 0 0 0 493.45,117.28 Z" fill="#f9adad" stroke="#fff" stroke-width="1"/>
<text x="514.7" y="46.0" font-size="10" fill="#222" text-anchor="middle">276</text>
<text x="533.4" y="52.1" font-size="10" fill="#222" text-anchor="middle">81</text>
<text x="488.4" y="45.5" font-size="10" fill="#222" text-anchor="middle">167</text>
<text x="469.9" y="49.0" font-size="10" fill="#222" text-anchor="middle">167</text>
<text x="452.8" y="57.7" font-size="10" fill="#222" text-anchor="middle">167</text>
<text x="437.0" y="70.4" font-size="10" fill="#222" text-anchor="middle">181</text>
<text x="428.7" y="83.3" font-size="10" fill="#222" text-anchor="middle">97</text>
<text x="420.4" y="98.6" font-size="10" fill="#222" text-anchor="middle">198</text>
<text x="580.5" y="141.8" font-size="10" fill="#222" text-anchor="middle">1,813</text>
<text x="438.3" y="183.9" font-size="10" fill="#222" text-anchor="middle">1,410</text>
<text x="481.6" y="77.0" font-size="10" fill="#222" text-anchor="middle" textLength="43.8" lengthAdjust="spacingAndGlyphs">CRISPR KO</text>
<text x="523.4" y="175.0" font-size="10" fill="#222" text-anchor="middle" textLength="31.0" lengthAdjust="spacingAndGlyphs">CRISPRi</text>
<text x="480.1" y="144.5" font-size="9.6" fill="#222" text-anchor="middle" textLength="17.9" lengthAdjust="spacingAndGlyphs">RPE1</text>
<text x="524.4" y="125.7" font-size="10" fill="#222" text-anchor="middle" textLength="21.9" lengthAdjust="spacingAndGlyphs">K562</text>
<text x="460.3" y="90.5" font-size="9.0" fill="#222" text-anchor="middle" transform="rotate(37 460.3 90.5)">CRISPRa</text>
<text x="490.8" y="105.5" font-size="9.2" fill="#222" text-anchor="middle" transform="rotate(57 490.8 105.5)">Ma-Mel</text>
<text x="477.8" y="112.0" font-size="9.0" fill="#222" text-anchor="middle" transform="rotate(33 477.8 112.0)">iPSC</text>
<text x="478.0" y="121.3" font-size="9.4" fill="#222" text-anchor="middle" textLength="32.0" lengthAdjust="spacingAndGlyphs" transform="rotate(14 478.0 121.3)">HEK293</text>
<text x="397.8" y="17.3" font-size="10.6" fill="#222" textLength="88.9" lengthAdjust="spacingAndGlyphs">Frangieh (control)</text>
<text x="359.3" y="29.0" font-size="10.6" fill="#222" textLength="104.1" lengthAdjust="spacingAndGlyphs">Frangieh (co-culture)</text>
<text x="374.2" y="43.3" font-size="10.6" fill="#222" textLength="69.2" lengthAdjust="spacingAndGlyphs">Frangieh (IFN)</text>
<text x="351.9" y="57.5" font-size="10.6" fill="#222" textLength="73.1" lengthAdjust="spacingAndGlyphs">Tian (CRISPRa)</text>
<text x="343.5" y="72.2" font-size="10.6" fill="#222" textLength="68.7" lengthAdjust="spacingAndGlyphs">Tian (CRISPRi)</text>
<text x="389.4" y="91.1" font-size="10.6" fill="#222" textLength="12.8" lengthAdjust="spacingAndGlyphs">Xu</text>
<text x="509.6" y="22.2" font-size="10.6" fill="#222" textLength="38.3" lengthAdjust="spacingAndGlyphs">Norman</text>
<text x="543.5" y="34.6" font-size="10.6" fill="#222" textLength="45.5" lengthAdjust="spacingAndGlyphs">Adamson</text>
<text x="601.4" y="143.9" font-size="10.6" fill="#222" textLength="78.7" lengthAdjust="spacingAndGlyphs">Replogle (K562)</text>
<text x="347.5" y="197.2" font-size="10.6" fill="#222" textLength="76.6" lengthAdjust="spacingAndGlyphs">Replogle (RPE1)</text>
<text x="0.3" y="257.0" font-size="15" fill="#000" font-weight="bold" stroke="#000" stroke-width="0.6">c</text>
<rect x="493.92" y="298.00" width="31.63" height="29.90" fill="#c7eab5"/>
<rect x="556.58" y="298.00" width="31.63" height="29.90" fill="#c7eab5"/>
<rect x="619.24" y="298.00" width="31.63" height="29.90" fill="#c7eab5"/>
<text x="71.0" y="316.1" font-size="9.7" fill="#2a2a2a" text-anchor="middle">0.02</text>
<text x="102.3" y="316.1" font-size="9.7" fill="#2a2a2a" text-anchor="middle">0.11</text>
<text x="133.6" y="316.1" font-size="9.7" fill="#2a2a2a" text-anchor="middle">0.21</text>
<text x="165.0" y="316.1" font-size="9.7" fill="#2a2a2a" text-anchor="middle">0.34</text>
<text x="196.3" y="316.1" font-size="9.7" fill="#2a2a2a" text-anchor="middle">0.06</text>
<text x="227.6" y="316.1" font-size="9.7" fill="#2a2a2a" text-anchor="middle">0.07</text>
<text x="258.9" y="316.1" font-size="9.7" fill="#2a2a2a" text-anchor="middle">0.10</text>
<text x="290.3" y="316.1" font-size="9.7" fill="#2a2a2a" text-anchor="middle">0.21</text>
<text x="321.6" y="316.1" font-size="9.7" fill="#2a2a2a" text-anchor="middle">0.10</text>
<text x="352.9" y="316.1" font-size="9.7" fill="#2a2a2a" text-anchor="middle">0.17</text>
<text x="384.3" y="316.1" font-size="9.7" fill="#2a2a2a" text-anchor="middle">0.24</text>
<text x="415.6" y="316.1" font-size="9.7" fill="#2a2a2a" text-anchor="middle">0.44</text>
<text x="446.9" y="316.1" font-size="9.7" fill="#2a2a2a" text-anchor="middle">0.11</text>
<text x="478.3" y="316.1" font-size="9.7" fill="#2a2a2a" text-anchor="middle">0.23</text>
<text x="509.6" y="316.1" font-size="9.7" fill="#2a2a2a" text-anchor="middle">0.08</text>
<text x="540.9" y="316.1" font-size="9.7" fill="#2a2a2a" text-anchor="middle">0.08</text>
<text x="572.2" y="316.1" font-size="9.7" fill="#2a2a2a" text-anchor="middle">0.08</text>
<text x="603.6" y="316.1" font-size="9.7" fill="#2a2a2a" text-anchor="middle">0.20</text>
<text x="634.9" y="316.1" font-size="9.7" fill="#2a2a2a" text-anchor="middle">0.07</text>
<text x="666.2" y="316.1" font-size="9.7" fill="#2a2a2a" text-anchor="middle">0.12</text>
<rect x="117.96" y="327.60" width="31.63" height="30.00" fill="#c7eab5"/>
<rect x="149.29" y="327.60" width="31.63" height="30.00" fill="#4aa651"/>
<rect x="305.94" y="327.60" width="31.63" height="30.00" fill="#c7eab5"/>
<text x="71.0" y="345.8" font-size="9.7" fill="#2a2a2a" text-anchor="middle">0.65</text>
<text x="102.3" y="345.8" font-size="9.7" fill="#2a2a2a" text-anchor="middle">0.72</text>
<text x="133.6" y="345.8" font-size="9.7" fill="#2a2a2a" text-anchor="middle">0.41</text>
<text x="165.0" y="345.8" font-size="9.7" fill="#eaf6ea" text-anchor="middle">0.59</text>
<text x="196.3" y="345.8" font-size="9.7" fill="#2a2a2a" text-anchor="middle">0.22</text>
<text x="227.6" y="345.8" font-size="9.7" fill="#2a2a2a" text-anchor="middle">0.31</text>
<text x="258.9" y="345.8" font-size="9.7" fill="#2a2a2a" text-anchor="middle">0.48</text>
<text x="290.3" y="345.8" font-size="9.7" fill="#2a2a2a" text-anchor="middle">0.55</text>
<text x="321.6" y="345.8" font-size="9.7" fill="#2a2a2a" text-anchor="middle">0.31</text>
<text x="352.9" y="345.8" font-size="9.7" fill="#2a2a2a" text-anchor="middle">0.56</text>
<text x="384.3" y="345.8" font-size="9.7" fill="#2a2a2a" text-anchor="middle">0.24</text>
<text x="415.6" y="345.8" font-size="9.7" fill="#2a2a2a" text-anchor="middle">0.45</text>
<text x="446.9" y="345.8" font-size="9.7" fill="#2a2a2a" text-anchor="middle">0.13</text>
<text x="478.3" y="345.8" font-size="9.7" fill="#2a2a2a" text-anchor="middle">0.21</text>
<text x="509.6" y="345.8" font-size="9.7" fill="#2a2a2a" text-anchor="middle">0.03</text>
<text x="540.9" y="345.8" font-size="9.7" fill="#2a2a2a" text-anchor="middle">0.01</text>
<text x="572.2" y="345.8" font-size="9.7" fill="#2a2a2a" text-anchor="middle">0.05</text>
<text x="603.6" y="345.8" font-size="9.7" fill="#2a2a2a" text-anchor="middle">0.07</text>
<text x="634.9" y="345.8" font-size="9.7" fill="#2a2a2a" text-anchor="middle">0.05</text>
<text x="666.2" y="345.8" font-size="9.7" fill="#2a2a2a" text-anchor="middle">0.07</text>
<rect x="55.30" y="357.30" width="31.63" height="30.00" fill="#c7eab5"/>
<rect x="86.63" y="357.30" width="31.63" height="30.00" fill="#c7eab5"/>
<rect x="180.62" y="357.30" width="31.63" height="30.00" fill="#c7eab5"/>
<rect x="211.95" y="357.30" width="31.63" height="30.00" fill="#4aa651"/>
<rect x="243.28" y="357.30" width="31.63" height="30.00" fill="#c7eab5"/>
<rect x="274.61" y="357.30" width="31.63" height="30.00" fill="#4aa651"/>
<rect x="368.60" y="357.30" width="31.63" height="30.00" fill="#c7eab5"/>
<rect x="399.93" y="357.30" width="31.63" height="30.00" fill="#c7eab5"/>
<rect x="525.25" y="357.30" width="31.63" height="30.00" fill="#c7eab5"/>
<rect x="587.91" y="357.30" width="31.63" height="30.00" fill="#c7eab5"/>
<rect x="650.57" y="357.30" width="31.63" height="30.00" fill="#4aa651"/>
<text x="71.0" y="375.4" font-size="9.7" fill="#2a2a2a" text-anchor="middle">0.69</text>
<text x="102.3" y="375.4" font-size="9.7" fill="#2a2a2a" text-anchor="middle">0.77</text>
<text x="133.6" y="375.4" font-size="9.7" fill="#2a2a2a" text-anchor="middle">0.40</text>
<text x="165.0" y="375.4" font-size="9.7" fill="#2a2a2a" text-anchor="middle">0.44</text>
<text x="196.3" y="375.4" font-size="9.7" fill="#2a2a2a" text-anchor="middle">0.29</text>
<text x="227.6" y="375.4" font-size="9.7" fill="#eaf6ea" text-anchor="middle">0.46</text>
<text x="258.9" y="375.4" font-size="9.7" fill="#2a2a2a" text-anchor="middle">0.52</text>
<text x="290.3" y="375.4" font-size="9.7" fill="#eaf6ea" text-anchor="middle">0.66</text>
<text x="321.6" y="375.4" font-size="9.7" fill="#2a2a2a" text-anchor="middle">0.28</text>
<text x="352.9" y="375.4" font-size="9.7" fill="#2a2a2a" text-anchor="middle">0.55</text>
<text x="384.3" y="375.4" font-size="9.7" fill="#2a2a2a" text-anchor="middle">0.37</text>
<text x="415.6" y="375.4" font-size="9.7" fill="#2a2a2a" text-anchor="middle">0.74</text>
<text x="446.9" y="375.4" font-size="9.7" fill="#2a2a2a" text-anchor="middle">0.18</text>
<text x="478.3" y="375.4" font-size="9.7" fill="#2a2a2a" text-anchor="middle">0.28</text>
<text x="509.6" y="375.4" font-size="9.7" fill="#2a2a2a" text-anchor="middle">0.07</text>
<text x="540.9" y="375.4" font-size="9.7" fill="#2a2a2a" text-anchor="middle">0.39</text>
<text x="572.2" y="375.4" font-size="9.7" fill="#2a2a2a" text-anchor="middle">0.06</text>
<text x="603.6" y="375.4" font-size="9.7" fill="#2a2a2a" text-anchor="middle">0.44</text>
<text x="634.9" y="375.4" font-size="9.7" fill="#2a2a2a" text-anchor="middle">0.05</text>
<text x="666.2" y="375.4" font-size="9.7" fill="#eaf6ea" text-anchor="middle">0.48</text>
<rect x="86.63" y="387.00" width="31.63" height="30.10" fill="#4aa651"/>
<rect x="211.95" y="387.00" width="31.63" height="30.10" fill="#c7eab5"/>
<rect x="274.61" y="387.00" width="31.63" height="30.10" fill="#4aa651"/>
<rect x="337.27" y="387.00" width="31.63" height="30.10" fill="#c7eab5"/>
<rect x="431.26" y="387.00" width="31.63" height="30.10" fill="#c7eab5"/>
<rect x="462.59" y="387.00" width="31.63" height="30.10" fill="#c7eab5"/>
<rect x="525.25" y="387.00" width="31.63" height="30.10" fill="#4aa651"/>
<rect x="556.58" y="387.00" width="31.63" height="30.10" fill="#c7eab5"/>
<rect x="587.91" y="387.00" width="31.63" height="30.10" fill="#4aa651"/>
<rect x="650.57" y="387.00" width="31.63" height="30.10" fill="#4aa651"/>
<text x="71.0" y="405.2" font-size="9.7" fill="#2a2a2a" text-anchor="middle">0.62</text>
<text x="102.3" y="405.2" font-size="9.7" fill="#eaf6ea" text-anchor="middle">0.79</text>
<text x="133.6" y="405.2" font-size="9.7" fill="#2a2a2a" text-anchor="middle">0.36</text>
<text x="165.0" y="405.2" font-size="9.7" fill="#2a2a2a" text-anchor="middle">0.47</text>
<text x="196.3" y="405.2" font-size="9.7" fill="#2a2a2a" text-anchor="middle">0.27</text>
<text x="227.6" y="405.2" font-size="9.7" fill="#2a2a2a" text-anchor="middle">0.43</text>
<text x="258.9" y="405.2" font-size="9.7" fill="#2a2a2a" text-anchor="middle">0.51</text>
<text x="290.3" y="405.2" font-size="9.7" fill="#eaf6ea" text-anchor="middle">0.66</text>
<text x="321.6" y="405.2" font-size="9.7" fill="#2a2a2a" text-anchor="middle">0.26</text>
<text x="352.9" y="405.2" font-size="9.7" fill="#2a2a2a" text-anchor="middle">0.62</text>
<text x="384.3" y="405.2" font-size="9.7" fill="#2a2a2a" text-anchor="middle">0.24</text>
<text x="415.6" y="405.2" font-size="9.7" fill="#2a2a2a" text-anchor="middle">0.70</text>
<text x="446.9" y="405.2" font-size="9.7" fill="#2a2a2a" text-anchor="middle">0.22</text>
<text x="478.3" y="405.2" font-size="9.7" fill="#2a2a2a" text-anchor="middle">0.44</text>
<text x="509.6" y="405.2" font-size="9.7" fill="#2a2a2a" text-anchor="middle">0.04</text>
<text x="540.9" y="405.2" font-size="9.7" fill="#eaf6ea" text-anchor="middle">0.48</text>
<text x="572.2" y="405.2" font-size="9.7" fill="#2a2a2a" text-anchor="middle">0.08</text>
<text x="603.6" y="405.2" font-size="9.7" fill="#eaf6ea" text-anchor="middle">0.57</text>
<text x="634.9" y="405.2" font-size="9.7" fill="#2a2a2a" text-anchor="middle">0.06</text>
<text x="666.2" y="405.2" font-size="9.7" fill="#eaf6ea" text-anchor="middle">0.48</text>
<rect x="55.30" y="416.80" width="31.63" height="30.50" fill="#4aa651"/>
<rect x="117.96" y="416.80" width="31.63" height="30.50" fill="#4aa651"/>
<rect x="149.29" y="416.80" width="31.63" height="30.50" fill="#c7eab5"/>
<rect x="180.62" y="416.80" width="31.63" height="30.50" fill="#4aa651"/>
<rect x="243.28" y="416.80" width="31.63" height="30.50" fill="#4aa651"/>
<rect x="305.94" y="416.80" width="31.63" height="30.50" fill="#4aa651"/>
<rect x="337.27" y="416.80" width="31.63" height="30.50" fill="#4aa651"/>
<rect x="368.60" y="416.80" width="31.63" height="30.50" fill="#4aa651"/>
<rect x="399.93" y="416.80" width="31.63" height="30.50" fill="#4aa651"/>
<rect x="431.26" y="416.80" width="31.63" height="30.50" fill="#4aa651"/>
<rect x="462.59" y="416.80" width="31.63" height="30.50" fill="#4aa651"/>
<rect x="493.92" y="416.80" width="31.63" height="30.50" fill="#4aa651"/>
<rect x="556.58" y="416.80" width="31.63" height="30.50" fill="#4aa651"/>
<rect x="619.24" y="416.80" width="31.63" height="30.50" fill="#4aa651"/>
<text x="71.0" y="435.2" font-size="9.7" fill="#eaf6ea" text-anchor="middle">0.70</text>
<text x="102.3" y="435.2" font-size="9.7" fill="#2a2a2a" text-anchor="middle">0.73</text>
<text x="133.6" y="435.2" font-size="9.7" fill="#eaf6ea" text-anchor="middle">0.49</text>
<text x="165.0" y="435.2" font-size="9.7" fill="#2a2a2a" text-anchor="middle">0.52</text>
<text x="196.3" y="435.2" font-size="9.7" fill="#eaf6ea" text-anchor="middle">0.32</text>
<text x="227.6" y="435.2" font-size="9.7" fill="#2a2a2a" text-anchor="middle">0.41</text>
<text x="258.9" y="435.2" font-size="9.7" fill="#eaf6ea" text-anchor="middle">0.55</text>
<text x="290.3" y="435.2" font-size="9.7" fill="#2a2a2a" text-anchor="middle">0.62</text>
<text x="321.6" y="435.2" font-size="9.7" fill="#eaf6ea" text-anchor="middle">0.50</text>
<text x="352.9" y="435.2" font-size="9.7" fill="#eaf6ea" text-anchor="middle">0.70</text>
<text x="384.3" y="435.2" font-size="9.7" fill="#eaf6ea" text-anchor="middle">0.51</text>
<text x="415.6" y="435.2" font-size="9.7" fill="#eaf6ea" text-anchor="middle">0.75</text>
<text x="446.9" y="435.2" font-size="9.7" fill="#eaf6ea" text-anchor="middle">0.32</text>
<text x="478.3" y="435.2" font-size="9.7" fill="#eaf6ea" text-anchor="middle">0.49</text>
<text x="509.6" y="435.2" font-size="9.7" fill="#eaf6ea" text-anchor="middle">0.15</text>
<text x="540.9" y="435.2" font-size="9.7" fill="#2a2a2a" text-anchor="middle">–0.14</text>
<text x="572.2" y="435.2" font-size="9.7" fill="#eaf6ea" text-anchor="middle">0.15</text>
<text x="603.6" y="435.2" font-size="9.7" fill="#2a2a2a" text-anchor="middle">0.13</text>
<text x="634.9" y="435.2" font-size="9.7" fill="#eaf6ea" text-anchor="middle">0.12</text>
<text x="666.2" y="435.2" font-size="9.7" fill="#2a2a2a" text-anchor="middle">–0.03</text>
<text x="86.6" y="266.0" font-size="11" fill="#2a2a2a" text-anchor="middle" textLength="46.0" lengthAdjust="spacingAndGlyphs">Adamson</text>
<line x1="58.3" y1="273.4" x2="115.0" y2="273.4" stroke="#555" stroke-width="1"/>
<text x="67.5" y="288.1" font-size="10.8" stroke="#222" stroke-width="0.4" fill="#222" textLength="6.0" lengthAdjust="spacingAndGlyphs">Δ</text>
<text x="92.0" y="288.1" font-size="10.8" stroke="#222" stroke-width="0.4" fill="#222" textLength="6.0" lengthAdjust="spacingAndGlyphs">Δ</text>
<text x="98.6" y="291.4" font-size="8.3" fill="#222" textLength="8.4" lengthAdjust="spacingAndGlyphs">20</text>
<text x="149.3" y="266.0" font-size="11" fill="#2a2a2a" text-anchor="middle" textLength="39.5" lengthAdjust="spacingAndGlyphs">Norman</text>
<line x1="121.0" y1="273.4" x2="177.6" y2="273.4" stroke="#555" stroke-width="1"/>
<text x="130.1" y="288.1" font-size="10.8" stroke="#222" stroke-width="0.4" fill="#222" textLength="6.0" lengthAdjust="spacingAndGlyphs">Δ</text>
<text x="154.7" y="288.1" font-size="10.8" stroke="#222" stroke-width="0.4" fill="#222" textLength="6.0" lengthAdjust="spacingAndGlyphs">Δ</text>
<text x="161.3" y="291.4" font-size="8.3" fill="#222" textLength="8.4" lengthAdjust="spacingAndGlyphs">20</text>
<text x="211.9" y="253.2" font-size="11" fill="#2a2a2a" text-anchor="middle" textLength="44.5" lengthAdjust="spacingAndGlyphs">Replogle</text>
<text x="211.9" y="265.5" font-size="11" fill="#2a2a2a" text-anchor="middle" textLength="34.5" lengthAdjust="spacingAndGlyphs">(K562)</text>
<line x1="183.6" y1="273.4" x2="240.3" y2="273.4" stroke="#555" stroke-width="1"/>
<text x="192.8" y="288.1" font-size="10.8" stroke="#222" stroke-width="0.4" fill="#222" textLength="6.0" lengthAdjust="spacingAndGlyphs">Δ</text>
<text x="217.3" y="288.1" font-size="10.8" stroke="#222" stroke-width="0.4" fill="#222" textLength="6.0" lengthAdjust="spacingAndGlyphs">Δ</text>
<text x="223.9" y="291.4" font-size="8.3" fill="#222" textLength="8.4" lengthAdjust="spacingAndGlyphs">20</text>
<text x="274.6" y="253.2" font-size="11" fill="#2a2a2a" text-anchor="middle" textLength="44.5" lengthAdjust="spacingAndGlyphs">Replogle</text>
<text x="274.6" y="265.5" font-size="11" fill="#2a2a2a" text-anchor="middle" textLength="35.5" lengthAdjust="spacingAndGlyphs">(RPE1)</text>
<line x1="246.3" y1="273.4" x2="302.9" y2="273.4" stroke="#555" stroke-width="1"/>
<text x="255.4" y="288.1" font-size="10.8" stroke="#222" stroke-width="0.4" fill="#222" textLength="6.0" lengthAdjust="spacingAndGlyphs">Δ</text>
<text x="280.0" y="288.1" font-size="10.8" stroke="#222" stroke-width="0.4" fill="#222" textLength="6.0" lengthAdjust="spacingAndGlyphs">Δ</text>
<text x="286.6" y="291.4" font-size="8.3" fill="#222" textLength="8.4" lengthAdjust="spacingAndGlyphs">20</text>
<text x="337.3" y="253.2" font-size="11" fill="#2a2a2a" text-anchor="middle" textLength="22.0" lengthAdjust="spacingAndGlyphs">Tian</text>
<text x="337.3" y="265.5" font-size="11" fill="#2a2a2a" text-anchor="middle" textLength="49.5" lengthAdjust="spacingAndGlyphs">(CRISPRa)</text>
<line x1="308.9" y1="273.4" x2="365.6" y2="273.4" stroke="#555" stroke-width="1"/>
<text x="318.1" y="288.1" font-size="10.8" stroke="#222" stroke-width="0.4" fill="#222" textLength="6.0" lengthAdjust="spacingAndGlyphs">Δ</text>
<text x="342.6" y="288.1" font-size="10.8" stroke="#222" stroke-width="0.4" fill="#222" textLength="6.0" lengthAdjust="spacingAndGlyphs">Δ</text>
<text x="349.2" y="291.4" font-size="8.3" fill="#222" textLength="8.4" lengthAdjust="spacingAndGlyphs">20</text>
<text x="399.9" y="253.2" font-size="11" fill="#2a2a2a" text-anchor="middle" textLength="22.0" lengthAdjust="spacingAndGlyphs">Tian</text>
<text x="399.9" y="265.5" font-size="11" fill="#2a2a2a" text-anchor="middle" textLength="46.5" lengthAdjust="spacingAndGlyphs">(CRISPRi)</text>
<line x1="371.6" y1="273.4" x2="428.3" y2="273.4" stroke="#555" stroke-width="1"/>
<text x="380.8" y="288.1" font-size="10.8" stroke="#222" stroke-width="0.4" fill="#222" textLength="6.0" lengthAdjust="spacingAndGlyphs">Δ</text>
<text x="405.3" y="288.1" font-size="10.8" stroke="#222" stroke-width="0.4" fill="#222" textLength="6.0" lengthAdjust="spacingAndGlyphs">Δ</text>
<text x="411.9" y="291.4" font-size="8.3" fill="#222" textLength="8.4" lengthAdjust="spacingAndGlyphs">20</text>
<text x="462.6" y="266.0" font-size="11" fill="#2a2a2a" text-anchor="middle" textLength="12.0" lengthAdjust="spacingAndGlyphs">Xu</text>
<line x1="434.3" y1="273.4" x2="490.9" y2="273.4" stroke="#555" stroke-width="1"/>
<text x="443.4" y="288.1" font-size="10.8" stroke="#222" stroke-width="0.4" fill="#222" textLength="6.0" lengthAdjust="spacingAndGlyphs">Δ</text>
<text x="468.0" y="288.1" font-size="10.8" stroke="#222" stroke-width="0.4" fill="#222" textLength="6.0" lengthAdjust="spacingAndGlyphs">Δ</text>
<text x="474.6" y="291.4" font-size="8.3" fill="#222" textLength="8.4" lengthAdjust="spacingAndGlyphs">20</text>
<text x="525.2" y="253.2" font-size="11" fill="#2a2a2a" text-anchor="middle" textLength="43.0" lengthAdjust="spacingAndGlyphs">Frangieh</text>
<text x="525.2" y="265.5" font-size="11" fill="#2a2a2a" text-anchor="middle" textLength="44.5" lengthAdjust="spacingAndGlyphs">(Control)</text>
<line x1="496.9" y1="273.4" x2="553.6" y2="273.4" stroke="#555" stroke-width="1"/>
<text x="506.1" y="288.1" font-size="10.8" stroke="#222" stroke-width="0.4" fill="#222" textLength="6.0" lengthAdjust="spacingAndGlyphs">Δ</text>
<text x="530.6" y="288.1" font-size="10.8" stroke="#222" stroke-width="0.4" fill="#222" textLength="6.0" lengthAdjust="spacingAndGlyphs">Δ</text>
<text x="537.2" y="291.4" font-size="8.3" fill="#222" textLength="8.4" lengthAdjust="spacingAndGlyphs">20</text>
<text x="587.9" y="253.2" font-size="11" fill="#2a2a2a" text-anchor="middle" textLength="43.0" lengthAdjust="spacingAndGlyphs">Frangieh</text>
<text x="587.9" y="265.5" font-size="11" fill="#2a2a2a" text-anchor="middle" textLength="59.5" lengthAdjust="spacingAndGlyphs">(Co-culture)</text>
<line x1="559.6" y1="273.4" x2="616.2" y2="273.4" stroke="#555" stroke-width="1"/>
<text x="568.7" y="288.1" font-size="10.8" stroke="#222" stroke-width="0.4" fill="#222" textLength="6.0" lengthAdjust="spacingAndGlyphs">Δ</text>
<text x="593.3" y="288.1" font-size="10.8" stroke="#222" stroke-width="0.4" fill="#222" textLength="6.0" lengthAdjust="spacingAndGlyphs">Δ</text>
<text x="599.9" y="291.4" font-size="8.3" fill="#222" textLength="8.4" lengthAdjust="spacingAndGlyphs">20</text>
<text x="650.6" y="253.2" font-size="11" fill="#2a2a2a" text-anchor="middle" textLength="43.0" lengthAdjust="spacingAndGlyphs">Frangieh</text>
<text x="650.6" y="265.5" font-size="11" fill="#2a2a2a" text-anchor="middle" textLength="23.0" lengthAdjust="spacingAndGlyphs">(IFN)</text>
<line x1="622.2" y1="273.4" x2="678.9" y2="273.4" stroke="#555" stroke-width="1"/>
<text x="631.4" y="288.1" font-size="10.8" stroke="#222" stroke-width="0.4" fill="#222" textLength="6.0" lengthAdjust="spacingAndGlyphs">Δ</text>
<text x="655.9" y="288.1" font-size="10.8" stroke="#222" stroke-width="0.4" fill="#222" textLength="6.0" lengthAdjust="spacingAndGlyphs">Δ</text>
<text x="662.5" y="291.4" font-size="8.3" fill="#222" textLength="8.4" lengthAdjust="spacingAndGlyphs">20</text>
<text x="7.9" y="288.9" font-size="11" fill="#222" textLength="38.5" lengthAdjust="spacingAndGlyphs">Pearson</text>
<line x1="0" y1="297.6" x2="682" y2="297.6" stroke="#555" stroke-width="1"/>
<line x1="0" y1="447.3" x2="682" y2="447.3" stroke="#777" stroke-width="1.2"/>
<text x="27.3" y="316.2" font-size="9.3" fill="#222" text-anchor="middle">CPA</text>
<text x="27.3" y="345.9" font-size="9.3" fill="#222" text-anchor="middle">GEARS</text>
<text x="27.3" y="375.5" font-size="9.3" fill="#222" text-anchor="middle">scGPT</text>
<text x="27.3" y="405.3" font-size="9.3" fill="#222" text-anchor="middle">scGPT (ft)</text>
<text x="27.3" y="429.6" font-size="9.3" fill="#222" text-anchor="middle">Perturbed</text>
<text x="27.3" y="439.8" font-size="9.3" fill="#222" text-anchor="middle">mean</text>
<text x="0.3" y="478.0" font-size="14.5" fill="#000" font-weight="bold" stroke="#000" stroke-width="0.6">d</text>
<text x="162.4" y="480.4" font-size="11.2" fill="#222" text-anchor="middle" textLength="139.6" lengthAdjust="spacingAndGlyphs">Two-gene test perturbations</text>
<line x1="56.6" y1="502.90" x2="267.6" y2="502.90" stroke="#dcdcdc" stroke-width="0.7" stroke-dasharray="2.5,2"/>
<text x="50.7" y="506.4" font-size="10" fill="#222" text-anchor="end">1.0</text>
<line x1="56.6" y1="519.00" x2="267.6" y2="519.00" stroke="#dcdcdc" stroke-width="0.7" stroke-dasharray="2.5,2"/>
<text x="50.7" y="522.5" font-size="10" fill="#222" text-anchor="end">0.8</text>
<line x1="56.6" y1="535.10" x2="267.6" y2="535.10" stroke="#dcdcdc" stroke-width="0.7" stroke-dasharray="2.5,2"/>
<text x="50.7" y="538.6" font-size="10" fill="#222" text-anchor="end">0.6</text>
<line x1="56.6" y1="551.20" x2="267.6" y2="551.20" stroke="#dcdcdc" stroke-width="0.7" stroke-dasharray="2.5,2"/>
<text x="50.7" y="554.7" font-size="10" fill="#222" text-anchor="end">0.4</text>
<line x1="56.6" y1="567.30" x2="267.6" y2="567.30" stroke="#dcdcdc" stroke-width="0.7" stroke-dasharray="2.5,2"/>
<text x="50.7" y="570.8" font-size="10" fill="#222" text-anchor="end">0.2</text>
<line x1="56.6" y1="583.40" x2="267.6" y2="583.40" stroke="#dcdcdc" stroke-width="0.7" stroke-dasharray="2.5,2"/>
<text x="50.7" y="586.9" font-size="10" fill="#222" text-anchor="end">0</text>
<line x1="56.6" y1="599.50" x2="267.6" y2="599.50" stroke="#dcdcdc" stroke-width="0.7" stroke-dasharray="2.5,2"/>
<text x="50.7" y="603.0" font-size="10" fill="#222" text-anchor="end">−0.2</text>
<rect x="56.6" y="487.2" width="211.00000000000003" height="124.00000000000006" fill="none" stroke="#555" stroke-width="1"/>
<defs><pattern id="h" patternUnits="userSpaceOnUse" width="4" height="4" patternTransform="rotate(45)"><line x1="0" y1="0" x2="0" y2="4" stroke="#333" stroke-width="1"/></pattern></defs>
<line x1="70.70" y1="527.4" x2="70.70" y2="548.3" stroke="#555" stroke-width="0.9"/>
<line x1="70.70" y1="574.6" x2="70.70" y2="600.5" stroke="#555" stroke-width="0.9"/>
<line x1="68.40" y1="527.4" x2="73.00" y2="527.4" stroke="#555" stroke-width="0.9"/>
<line x1="68.40" y1="600.5" x2="73.00" y2="600.5" stroke="#555" stroke-width="0.9"/>
<rect x="66.00" y="548.3" width="9.40" height="26.30" fill="#3274a1" stroke="#333" stroke-width="0.8"/>
<line x1="66.00" y1="562.2" x2="75.40" y2="562.2" stroke="#333" stroke-width="1"/>
<line x1="79.90" y1="522.7" x2="79.90" y2="532.6" stroke="#555" stroke-width="0.9"/>
<line x1="79.90" y1="551.4" x2="79.90" y2="562.2" stroke="#555" stroke-width="0.9"/>
<line x1="77.60" y1="522.7" x2="82.20" y2="522.7" stroke="#555" stroke-width="0.9"/>
<line x1="77.60" y1="562.2" x2="82.20" y2="562.2" stroke="#555" stroke-width="0.9"/>
<rect x="75.40" y="532.6" width="9.00" height="18.80" fill="#e1812c" stroke="#333" stroke-width="0.8"/>
<line x1="75.40" y1="537.7" x2="84.40" y2="537.7" stroke="#333" stroke-width="1"/>
<line x1="89.00" y1="527.0" x2="89.00" y2="534.0" stroke="#555" stroke-width="0.9"/>
<line x1="89.00" y1="549.9" x2="89.00" y2="575.5" stroke="#555" stroke-width="0.9"/>
<line x1="86.70" y1="527.0" x2="91.30" y2="527.0" stroke="#555" stroke-width="0.9"/>
<line x1="86.70" y1="575.5" x2="91.30" y2="575.5" stroke="#555" stroke-width="0.9"/>
<rect x="84.40" y="534.0" width="9.20" height="15.90" fill="#3a923a" stroke="#333" stroke-width="0.8"/>
<line x1="84.40" y1="541.3" x2="93.60" y2="541.3" stroke="#333" stroke-width="1"/>
<line x1="98.10" y1="524.0" x2="98.10" y2="538.3" stroke="#555" stroke-width="0.9"/>
<line x1="98.10" y1="558.5" x2="98.10" y2="576.5" stroke="#555" stroke-width="0.9"/>
<line x1="95.80" y1="524.0" x2="100.40" y2="524.0" stroke="#555" stroke-width="0.9"/>
<line x1="95.80" y1="576.5" x2="100.40" y2="576.5" stroke="#555" stroke-width="0.9"/>
<rect x="93.60" y="538.3" width="9.00" height="20.20" fill="#c03d3e" stroke="#333" stroke-width="0.8"/>
<line x1="93.60" y1="545.8" x2="102.60" y2="545.8" stroke="#333" stroke-width="1"/>
<line x1="107.20" y1="520.3" x2="107.20" y2="526.8" stroke="#555" stroke-width="0.9"/>
<line x1="107.20" y1="542.2" x2="107.20" y2="562.2" stroke="#555" stroke-width="0.9"/>
<line x1="104.90" y1="520.3" x2="109.50" y2="520.3" stroke="#555" stroke-width="0.9"/>
<line x1="104.90" y1="562.2" x2="109.50" y2="562.2" stroke="#555" stroke-width="0.9"/>
<rect x="102.60" y="526.8" width="9.20" height="15.40" fill="#9372b2" stroke="#333" stroke-width="0.8"/>
<rect x="102.60" y="526.8" width="9.20" height="15.40" fill="url(#h)" stroke="#333" stroke-width="0.8"/>
<line x1="102.60" y1="532.0" x2="111.80" y2="532.0" stroke="#333" stroke-width="1"/>
<line x1="116.40" y1="520.3" x2="116.40" y2="526.4" stroke="#555" stroke-width="0.9"/>
<line x1="116.40" y1="542.4" x2="116.40" y2="562.2" stroke="#555" stroke-width="0.9"/>
<line x1="114.10" y1="520.3" x2="118.70" y2="520.3" stroke="#555" stroke-width="0.9"/>
<line x1="114.10" y1="562.2" x2="118.70" y2="562.2" stroke="#555" stroke-width="0.9"/>
<rect x="111.80" y="526.4" width="9.20" height="16.00" fill="#845b53" stroke="#333" stroke-width="0.8"/>
<rect x="111.80" y="526.4" width="9.20" height="16.00" fill="url(#h)" stroke="#333" stroke-width="0.8"/>
<line x1="111.80" y1="532.0" x2="121.00" y2="532.0" stroke="#333" stroke-width="1"/>
<line x1="139.20" y1="510.0" x2="139.20" y2="527.0" stroke="#555" stroke-width="0.9"/>
<line x1="139.20" y1="560.5" x2="139.20" y2="606.3" stroke="#555" stroke-width="0.9"/>
<line x1="136.90" y1="510.0" x2="141.50" y2="510.0" stroke="#555" stroke-width="0.9"/>
<line x1="136.90" y1="606.3" x2="141.50" y2="606.3" stroke="#555" stroke-width="0.9"/>
<rect x="134.50" y="527.0" width="9.40" height="33.50" fill="#3274a1" stroke="#333" stroke-width="0.8"/>
<line x1="134.50" y1="541.3" x2="143.90" y2="541.3" stroke="#333" stroke-width="1"/>
<line x1="148.40" y1="513.1" x2="148.40" y2="525.4" stroke="#555" stroke-width="0.9"/>
<line x1="148.40" y1="542.8" x2="148.40" y2="561.8" stroke="#555" stroke-width="0.9"/>
<line x1="146.10" y1="513.1" x2="150.70" y2="513.1" stroke="#555" stroke-width="0.9"/>
<line x1="146.10" y1="561.8" x2="150.70" y2="561.8" stroke="#555" stroke-width="0.9"/>
<rect x="143.90" y="525.4" width="9.00" height="17.40" fill="#e1812c" stroke="#333" stroke-width="0.8"/>
<line x1="143.90" y1="530.5" x2="152.90" y2="530.5" stroke="#333" stroke-width="1"/>
<line x1="157.50" y1="505.0" x2="157.50" y2="518.2" stroke="#555" stroke-width="0.9"/>
<line x1="157.50" y1="537.7" x2="157.50" y2="566.5" stroke="#555" stroke-width="0.9"/>
<line x1="155.20" y1="505.0" x2="159.80" y2="505.0" stroke="#555" stroke-width="0.9"/>
<line x1="155.20" y1="566.5" x2="159.80" y2="566.5" stroke="#555" stroke-width="0.9"/>
<rect x="152.90" y="518.2" width="9.20" height="19.50" fill="#3a923a" stroke="#333" stroke-width="0.8"/>
<line x1="152.90" y1="526.4" x2="162.10" y2="526.4" stroke="#333" stroke-width="1"/>
<line x1="166.70" y1="507.4" x2="166.70" y2="521.3" stroke="#555" stroke-width="0.9"/>
<line x1="166.70" y1="543.2" x2="166.70" y2="575.9" stroke="#555" stroke-width="0.9"/>
<line x1="164.40" y1="507.4" x2="169.00" y2="507.4" stroke="#555" stroke-width="0.9"/>
<line x1="164.40" y1="575.9" x2="169.00" y2="575.9" stroke="#555" stroke-width="0.9"/>
<rect x="162.10" y="521.3" width="9.20" height="21.90" fill="#c03d3e" stroke="#333" stroke-width="0.8"/>
<line x1="162.10" y1="529.5" x2="171.30" y2="529.5" stroke="#333" stroke-width="1"/>
<line x1="175.90" y1="518.2" x2="175.90" y2="526.4" stroke="#555" stroke-width="0.9"/>
<line x1="175.90" y1="549.3" x2="175.90" y2="581.5" stroke="#555" stroke-width="0.9"/>
<line x1="173.60" y1="518.2" x2="178.20" y2="518.2" stroke="#555" stroke-width="0.9"/>
<line x1="173.60" y1="581.5" x2="178.20" y2="581.5" stroke="#555" stroke-width="0.9"/>
<rect x="171.30" y="526.4" width="9.20" height="22.90" fill="#9372b2" stroke="#333" stroke-width="0.8"/>
<rect x="171.30" y="526.4" width="9.20" height="22.90" fill="url(#h)" stroke="#333" stroke-width="0.8"/>
<line x1="171.30" y1="534.6" x2="180.50" y2="534.6" stroke="#333" stroke-width="1"/>
<line x1="185.10" y1="505.4" x2="185.10" y2="513.1" stroke="#555" stroke-width="0.9"/>
<line x1="185.10" y1="529.9" x2="185.10" y2="554.4" stroke="#555" stroke-width="0.9"/>
<line x1="182.80" y1="505.4" x2="187.40" y2="505.4" stroke="#555" stroke-width="0.9"/>
<line x1="182.80" y1="554.4" x2="187.40" y2="554.4" stroke="#555" stroke-width="0.9"/>
<rect x="180.50" y="513.1" width="9.20" height="16.80" fill="#845b53" stroke="#333" stroke-width="0.8"/>
<rect x="180.50" y="513.1" width="9.20" height="16.80" fill="url(#h)" stroke="#333" stroke-width="0.8"/>
<line x1="180.50" y1="517.8" x2="189.70" y2="517.8" stroke="#333" stroke-width="1"/>
<line x1="207.90" y1="508.4" x2="207.90" y2="517.6" stroke="#555" stroke-width="0.9"/>
<line x1="207.90" y1="543.4" x2="207.90" y2="564.4" stroke="#555" stroke-width="0.9"/>
<line x1="205.60" y1="508.4" x2="210.20" y2="508.4" stroke="#555" stroke-width="0.9"/>
<line x1="205.60" y1="564.4" x2="210.20" y2="564.4" stroke="#555" stroke-width="0.9"/>
<rect x="203.20" y="517.6" width="9.40" height="25.80" fill="#3274a1" stroke="#333" stroke-width="0.8"/>
<line x1="203.20" y1="525.4" x2="212.60" y2="525.4" stroke="#333" stroke-width="1"/>
<line x1="217.10" y1="514.2" x2="217.10" y2="518.2" stroke="#555" stroke-width="0.9"/>
<line x1="217.10" y1="531.5" x2="217.10" y2="543.4" stroke="#555" stroke-width="0.9"/>
<line x1="214.80" y1="514.2" x2="219.40" y2="514.2" stroke="#555" stroke-width="0.9"/>
<line x1="214.80" y1="543.4" x2="219.40" y2="543.4" stroke="#555" stroke-width="0.9"/>
<rect x="212.60" y="518.2" width="9.00" height="13.30" fill="#e1812c" stroke="#333" stroke-width="0.8"/>
<line x1="212.60" y1="525.4" x2="221.60" y2="525.4" stroke="#333" stroke-width="1"/>
<line x1="226.05" y1="505.4" x2="226.05" y2="509.0" stroke="#555" stroke-width="0.9"/>
<line x1="226.05" y1="517.2" x2="226.05" y2="526.4" stroke="#555" stroke-width="0.9"/>
<line x1="223.75" y1="505.4" x2="228.35" y2="505.4" stroke="#555" stroke-width="0.9"/>
<line x1="223.75" y1="526.4" x2="228.35" y2="526.4" stroke="#555" stroke-width="0.9"/>
<rect x="221.60" y="509.0" width="8.90" height="8.20" fill="#3a923a" stroke="#333" stroke-width="0.8"/>
<line x1="221.60" y1="512.1" x2="230.50" y2="512.1" stroke="#333" stroke-width="1"/>
<line x1="235.10" y1="506.6" x2="235.10" y2="512.1" stroke="#555" stroke-width="0.9"/>
<line x1="235.10" y1="522.3" x2="235.10" y2="530.5" stroke="#555" stroke-width="0.9"/>
<line x1="232.80" y1="506.6" x2="237.40" y2="506.6" stroke="#555" stroke-width="0.9"/>
<line x1="232.80" y1="530.5" x2="237.40" y2="530.5" stroke="#555" stroke-width="0.9"/>
<rect x="230.50" y="512.1" width="9.20" height="10.20" fill="#c03d3e" stroke="#333" stroke-width="0.8"/>
<line x1="230.50" y1="517.2" x2="239.70" y2="517.2" stroke="#333" stroke-width="1"/>
<line x1="244.30" y1="514.2" x2="244.30" y2="525.0" stroke="#555" stroke-width="0.9"/>
<line x1="244.30" y1="539.3" x2="244.30" y2="556.1" stroke="#555" stroke-width="0.9"/>
<line x1="242.00" y1="514.2" x2="246.60" y2="514.2" stroke="#555" stroke-width="0.9"/>
<line x1="242.00" y1="556.1" x2="246.60" y2="556.1" stroke="#555" stroke-width="0.9"/>
<rect x="239.70" y="525.0" width="9.20" height="14.30" fill="#9372b2" stroke="#333" stroke-width="0.8"/>
<rect x="239.70" y="525.0" width="9.20" height="14.30" fill="url(#h)" stroke="#333" stroke-width="0.8"/>
<line x1="239.70" y1="533.0" x2="248.90" y2="533.0" stroke="#333" stroke-width="1"/>
<line x1="253.50" y1="505.4" x2="253.50" y2="507.0" stroke="#555" stroke-width="0.9"/>
<line x1="253.50" y1="511.5" x2="253.50" y2="515.2" stroke="#555" stroke-width="0.9"/>
<line x1="251.20" y1="505.4" x2="255.80" y2="505.4" stroke="#555" stroke-width="0.9"/>
<line x1="251.20" y1="515.2" x2="255.80" y2="515.2" stroke="#555" stroke-width="0.9"/>
<rect x="248.90" y="507.0" width="9.20" height="4.50" fill="#845b53" stroke="#333" stroke-width="0.8"/>
<rect x="248.90" y="507.0" width="9.20" height="4.50" fill="url(#h)" stroke="#333" stroke-width="0.8"/>
<line x1="248.90" y1="509.0" x2="258.10" y2="509.0" stroke="#333" stroke-width="1"/>
<path d="M79.3,517.2 L79.3,515.2 L117.5,515.2 L117.5,517.2" fill="none" stroke="#333" stroke-width="0.9"/>
<text x="98.4" y="517.0" font-size="14" fill="#222" text-anchor="middle">**</text>
<path d="M157.6,503.9 L157.6,501.9 L186.2,501.9 L186.2,503.9" fill="none" stroke="#333" stroke-width="0.9"/>
<text x="171.9" y="503.7" font-size="14" fill="#222" text-anchor="middle">****</text>
<path d="M225.4,503.9 L225.4,501.9 L254.7,501.9 L254.7,503.9" fill="none" stroke="#333" stroke-width="0.9"/>
<text x="240.1" y="503.7" font-size="14" fill="#222" text-anchor="middle">***</text>
<text x="93.0" y="622.5" font-size="10" fill="#222" text-anchor="middle">0</text>
<text x="162.0" y="622.5" font-size="10" fill="#222" text-anchor="middle">1</text>
<text x="230.0" y="622.5" font-size="10" fill="#222" text-anchor="middle">2</text>
<text x="105.9" y="638.5" font-size="11.2" fill="#222" textLength="112.4" lengthAdjust="spacingAndGlyphs">No. seen perturbations</text>
<text x="26.3" y="551" font-size="11" fill="#222" text-anchor="middle" transform="rotate(-90 26.3 551)">Pearson<tspan font-size="8" dy="3">Δ</tspan></text>
<rect x="31" y="649.9" width="21" height="7.5" fill="#3274a1" stroke="#444" stroke-width="0.8"/>
<text x="58.0" y="657.3" font-size="10" fill="#2a2a2a" textLength="17.4" lengthAdjust="spacingAndGlyphs">CPA</text>
<rect x="31" y="666.1" width="21" height="7.5" fill="#e1812c" stroke="#444" stroke-width="0.8"/>
<text x="58.0" y="673.5" font-size="10" fill="#2a2a2a" textLength="28.8" lengthAdjust="spacingAndGlyphs">GEARS</text>
<rect x="103.2" y="649.9" width="21" height="7.5" fill="#3a923a" stroke="#444" stroke-width="0.8"/>
<text x="130.2" y="657.3" font-size="10" fill="#2a2a2a" textLength="30.9" lengthAdjust="spacingAndGlyphs">scGPT</text>
<rect x="103.2" y="666.1" width="21" height="7.5" fill="#c03d3e" stroke="#444" stroke-width="0.8"/>
<text x="130.2" y="673.5" font-size="10" fill="#2a2a2a" textLength="41.5" lengthAdjust="spacingAndGlyphs">scGPT (ft)</text>
<rect x="187.2" y="649.9" width="21" height="7.5" fill="#9372b2" stroke="#444" stroke-width="0.8"/>
<rect x="187.2" y="649.9" width="21" height="7.5" fill="url(#h)" stroke="#444" stroke-width="0.8"/>
<text x="214.2" y="657.3" font-size="10" fill="#2a2a2a" textLength="66.9" lengthAdjust="spacingAndGlyphs">Perturbed mean</text>
<rect x="187.2" y="666.1" width="21" height="7.5" fill="#845b53" stroke="#444" stroke-width="0.8"/>
<rect x="187.2" y="666.1" width="21" height="7.5" fill="url(#h)" stroke="#444" stroke-width="0.8"/>
<text x="214.2" y="673.5" font-size="10" fill="#2a2a2a" textLength="65.6" lengthAdjust="spacingAndGlyphs">Matching mean</text>
<text x="315.6" y="478.1" font-size="14.8" fill="#000" font-weight="bold" stroke="#000" stroke-width="0.6">e</text>
<text x="527.7" y="481.4" font-size="10.8" fill="#222" text-anchor="middle" textLength="250.0" lengthAdjust="spacingAndGlyphs">Two-gene perturbation change in gene expression</text>
<text x="528.0" y="493.5" font-size="10.8" fill="#222" text-anchor="middle" textLength="210.5" lengthAdjust="spacingAndGlyphs">after perturbing FOSB + OSR2 (1 seen of 2)</text>
<line x1="370.5" y1="514.6" x2="370.5" y2="649.8" stroke="#444" stroke-width="1"/>
<line x1="370.5" y1="649.8" x2="685" y2="649.8" stroke="#444" stroke-width="1"/>
<line x1="367.5" y1="514.55" x2="370.5" y2="514.55" stroke="#333" stroke-width="1"/>
<text x="363.5" y="518.0" font-size="10" fill="#333" text-anchor="end">3</text>
<line x1="367.5" y1="543.40" x2="370.5" y2="543.40" stroke="#333" stroke-width="1"/>
<text x="363.5" y="546.9" font-size="10" fill="#333" text-anchor="end">2</text>
<line x1="367.5" y1="572.25" x2="370.5" y2="572.25" stroke="#333" stroke-width="1"/>
<text x="363.5" y="575.8" font-size="10" fill="#333" text-anchor="end">1</text>
<line x1="367.5" y1="601.10" x2="370.5" y2="601.10" stroke="#333" stroke-width="1"/>
<text x="363.5" y="604.6" font-size="10" fill="#333" text-anchor="end">0</text>
<line x1="367.5" y1="629.95" x2="370.5" y2="629.95" stroke="#333" stroke-width="1"/>
<text x="363.5" y="633.5" font-size="10" fill="#333" text-anchor="end">−1</text>
<line x1="399.20" y1="552.06" x2="399.20" y2="586.96" stroke="#555" stroke-width="1"/>
<line x1="391.90" y1="552.06" x2="406.50" y2="552.06" stroke="#555" stroke-width="1"/>
<rect x="384.97" y="586.96" width="28.45" height="25.10" fill="none" stroke="#777" stroke-width="1"/>
<line x1="399.20" y1="649.8" x2="399.20" y2="654" stroke="#333" stroke-width="1"/>
<text x="402.7" y="659.3" font-size="9.5" fill="#222" text-anchor="end" transform="rotate(-90 402.7 659.3)">MT1G</text>
<line x1="427.65" y1="520.32" x2="427.65" y2="568.79" stroke="#555" stroke-width="1"/>
<line x1="420.35" y1="520.32" x2="434.95" y2="520.32" stroke="#555" stroke-width="1"/>
<rect x="413.42" y="568.79" width="28.45" height="35.20" fill="none" stroke="#777" stroke-width="1"/>
<line x1="427.65" y1="649.8" x2="427.65" y2="654" stroke="#333" stroke-width="1"/>
<text x="431.1" y="659.3" font-size="9.5" fill="#222" text-anchor="end" transform="rotate(-90 431.1 659.3)">MS4A3</text>
<line x1="456.10" y1="568.50" x2="456.10" y2="600.52" stroke="#555" stroke-width="1"/>
<line x1="448.80" y1="568.50" x2="463.40" y2="568.50" stroke="#555" stroke-width="1"/>
<rect x="441.87" y="600.52" width="28.45" height="21.35" fill="none" stroke="#777" stroke-width="1"/>
<line x1="456.10" y1="649.8" x2="456.10" y2="654" stroke="#333" stroke-width="1"/>
<text x="459.6" y="659.3" font-size="9.5" fill="#222" text-anchor="end" transform="rotate(-90 459.6 659.3)">MYC</text>
<line x1="484.55" y1="571.96" x2="484.55" y2="598.22" stroke="#555" stroke-width="1"/>
<line x1="477.25" y1="571.96" x2="491.85" y2="571.96" stroke="#555" stroke-width="1"/>
<rect x="470.32" y="598.22" width="28.45" height="38.37" fill="none" stroke="#777" stroke-width="1"/>
<line x1="484.55" y1="649.8" x2="484.55" y2="654" stroke="#333" stroke-width="1"/>
<text x="488.0" y="659.3" font-size="9.5" fill="#222" text-anchor="end" transform="rotate(-90 488.0 659.3)">GAL</text>
<line x1="513.00" y1="567.35" x2="513.00" y2="610.33" stroke="#555" stroke-width="1"/>
<line x1="505.70" y1="567.35" x2="520.30" y2="567.35" stroke="#555" stroke-width="1"/>
<rect x="498.77" y="610.33" width="28.45" height="31.16" fill="none" stroke="#777" stroke-width="1"/>
<line x1="513.00" y1="649.8" x2="513.00" y2="654" stroke="#333" stroke-width="1"/>
<text x="516.5" y="659.3" font-size="9.5" fill="#222" text-anchor="end" transform="rotate(-90 516.5 659.3)">GYPB</text>
<line x1="541.45" y1="574.27" x2="541.45" y2="601.10" stroke="#555" stroke-width="1"/>
<line x1="534.15" y1="574.27" x2="548.75" y2="574.27" stroke="#555" stroke-width="1"/>
<rect x="527.23" y="601.10" width="28.45" height="20.77" fill="none" stroke="#777" stroke-width="1"/>
<line x1="541.45" y1="649.8" x2="541.45" y2="654" stroke="#333" stroke-width="1"/>
<text x="545.0" y="659.3" font-size="9.5" fill="#222" text-anchor="end" transform="rotate(-90 545.0 659.3)">CTSL</text>
<line x1="569.90" y1="564.75" x2="569.90" y2="591.29" stroke="#555" stroke-width="1"/>
<line x1="562.60" y1="564.75" x2="577.20" y2="564.75" stroke="#555" stroke-width="1"/>
<line x1="569.90" y1="616.10" x2="569.90" y2="630.53" stroke="#555" stroke-width="1"/>
<line x1="562.60" y1="630.53" x2="577.20" y2="630.53" stroke="#555" stroke-width="1"/>
<rect x="555.67" y="591.29" width="28.45" height="24.81" fill="none" stroke="#777" stroke-width="1"/>
<line x1="569.90" y1="649.8" x2="569.90" y2="654" stroke="#333" stroke-width="1"/>
<text x="573.4" y="659.3" font-size="9.5" fill="#222" text-anchor="end" transform="rotate(-90 573.4 659.3)">KCNH2</text>
<line x1="598.35" y1="568.21" x2="598.35" y2="586.39" stroke="#555" stroke-width="1"/>
<line x1="591.05" y1="568.21" x2="605.65" y2="568.21" stroke="#555" stroke-width="1"/>
<line x1="598.35" y1="598.50" x2="598.35" y2="612.93" stroke="#555" stroke-width="1"/>
<line x1="591.05" y1="612.93" x2="605.65" y2="612.93" stroke="#555" stroke-width="1"/>
<rect x="584.12" y="586.39" width="28.45" height="12.12" fill="none" stroke="#777" stroke-width="1"/>
<line x1="598.35" y1="649.8" x2="598.35" y2="654" stroke="#333" stroke-width="1"/>
<text x="601.9" y="659.3" font-size="9.5" fill="#222" text-anchor="end" transform="rotate(-90 601.9 659.3)">FTL</text>
<line x1="626.80" y1="582.64" x2="626.80" y2="598.22" stroke="#555" stroke-width="1"/>
<line x1="619.50" y1="582.64" x2="634.10" y2="582.64" stroke="#555" stroke-width="1"/>
<line x1="626.80" y1="616.97" x2="626.80" y2="643.80" stroke="#555" stroke-width="1"/>
<line x1="619.50" y1="643.80" x2="634.10" y2="643.80" stroke="#555" stroke-width="1"/>
<rect x="612.57" y="598.22" width="28.45" height="18.75" fill="none" stroke="#777" stroke-width="1"/>
<line x1="626.80" y1="649.8" x2="626.80" y2="654" stroke="#333" stroke-width="1"/>
<text x="630.3" y="659.3" font-size="9.5" fill="#222" text-anchor="end" transform="rotate(-90 630.3 659.3)">PTMA</text>
<line x1="655.25" y1="553.21" x2="655.25" y2="576.29" stroke="#555" stroke-width="1"/>
<line x1="647.95" y1="553.21" x2="662.55" y2="553.21" stroke="#555" stroke-width="1"/>
<line x1="655.25" y1="601.97" x2="655.25" y2="634.85" stroke="#555" stroke-width="1"/>
<line x1="647.95" y1="634.85" x2="662.55" y2="634.85" stroke="#555" stroke-width="1"/>
<rect x="641.02" y="576.29" width="28.45" height="25.68" fill="none" stroke="#777" stroke-width="1"/>
<line x1="655.25" y1="649.8" x2="655.25" y2="654" stroke="#333" stroke-width="1"/>
<text x="658.8" y="659.3" font-size="9.5" fill="#222" text-anchor="end" transform="rotate(-90 658.8 659.3)">TEX30</text>
<line x1="370.5" y1="601.3" x2="685" y2="601.3" stroke="#333" stroke-width="1.1" stroke-dasharray="4.5,3"/>
<circle cx="389.20" cy="600.90" r="1.9" fill="#1f77b4"/>
<circle cx="393.25" cy="603.20" r="1.9" fill="#ff7f0e"/>
<circle cx="397.30" cy="601.60" r="1.9" fill="#2ca02c"/>
<circle cx="401.35" cy="605.10" r="1.9" fill="#d62728"/>
<circle cx="405.40" cy="604.60" r="1.9" fill="#9467bd"/>
<circle cx="409.45" cy="602.80" r="1.9" fill="#8c564b"/>
<circle cx="417.65" cy="598.80" r="1.9" fill="#1f77b4"/>
<circle cx="421.70" cy="589.90" r="1.9" fill="#ff7f0e"/>
<circle cx="425.75" cy="600.40" r="1.9" fill="#2ca02c"/>
<circle cx="429.80" cy="602.10" r="1.9" fill="#d62728"/>
<circle cx="433.85" cy="600.40" r="1.9" fill="#9467bd"/>
<circle cx="437.90" cy="600.00" r="1.9" fill="#8c564b"/>
<circle cx="446.10" cy="602.80" r="1.9" fill="#1f77b4"/>
<circle cx="450.15" cy="607.90" r="1.9" fill="#ff7f0e"/>
<circle cx="454.20" cy="607.00" r="1.9" fill="#2ca02c"/>
<circle cx="458.25" cy="611.00" r="1.9" fill="#d62728"/>
<circle cx="462.30" cy="604.60" r="1.9" fill="#9467bd"/>
<circle cx="466.35" cy="606.30" r="1.9" fill="#8c564b"/>
<circle cx="474.55" cy="601.60" r="1.9" fill="#1f77b4"/>
<circle cx="478.60" cy="610.50" r="1.9" fill="#ff7f0e"/>
<circle cx="482.65" cy="609.80" r="1.9" fill="#2ca02c"/>
<circle cx="486.70" cy="616.30" r="1.9" fill="#d62728"/>
<circle cx="490.75" cy="607.50" r="1.9" fill="#9467bd"/>
<circle cx="494.80" cy="609.10" r="1.9" fill="#8c564b"/>
<circle cx="503.00" cy="608.00" r="1.9" fill="#1f77b4"/>
<circle cx="507.05" cy="607.20" r="1.9" fill="#ff7f0e"/>
<circle cx="511.10" cy="607.50" r="1.9" fill="#2ca02c"/>
<circle cx="515.15" cy="605.30" r="1.9" fill="#d62728"/>
<circle cx="519.20" cy="595.90" r="1.9" fill="#9467bd"/>
<circle cx="523.25" cy="604.80" r="1.9" fill="#8c564b"/>
<circle cx="531.45" cy="605.90" r="1.9" fill="#1f77b4"/>
<circle cx="535.50" cy="609.40" r="1.9" fill="#ff7f0e"/>
<circle cx="539.55" cy="605.30" r="1.9" fill="#2ca02c"/>
<circle cx="543.60" cy="612.90" r="1.9" fill="#d62728"/>
<circle cx="547.65" cy="606.70" r="1.9" fill="#9467bd"/>
<circle cx="551.70" cy="605.30" r="1.9" fill="#8c564b"/>
<circle cx="559.90" cy="602.60" r="1.9" fill="#1f77b4"/>
<circle cx="563.95" cy="605.30" r="1.9" fill="#ff7f0e"/>
<circle cx="568.00" cy="604.20" r="1.9" fill="#2ca02c"/>
<circle cx="572.05" cy="609.40" r="1.9" fill="#d62728"/>
<circle cx="576.10" cy="606.70" r="1.9" fill="#9467bd"/>
<circle cx="580.15" cy="606.70" r="1.9" fill="#8c564b"/>
<circle cx="588.35" cy="601.30" r="1.9" fill="#1f77b4"/>
<circle cx="592.40" cy="595.90" r="1.9" fill="#ff7f0e"/>
<circle cx="596.45" cy="594.00" r="1.9" fill="#2ca02c"/>
<circle cx="600.50" cy="590.50" r="1.9" fill="#d62728"/>
<circle cx="604.55" cy="597.80" r="1.9" fill="#9467bd"/>
<circle cx="608.60" cy="597.20" r="1.9" fill="#8c564b"/>
<circle cx="616.80" cy="601.80" r="1.9" fill="#1f77b4"/>
<circle cx="620.85" cy="618.80" r="1.9" fill="#ff7f0e"/>
<circle cx="624.90" cy="603.40" r="1.9" fill="#2ca02c"/>
<circle cx="628.95" cy="611.30" r="1.9" fill="#d62728"/>
<circle cx="633.00" cy="607.50" r="1.9" fill="#9467bd"/>
<circle cx="637.05" cy="608.80" r="1.9" fill="#8c564b"/>
<circle cx="645.25" cy="598.60" r="1.9" fill="#1f77b4"/>
<circle cx="649.30" cy="604.80" r="1.9" fill="#ff7f0e"/>
<circle cx="653.35" cy="599.90" r="1.9" fill="#2ca02c"/>
<circle cx="657.40" cy="605.30" r="1.9" fill="#d62728"/>
<circle cx="661.45" cy="608.00" r="1.9" fill="#9467bd"/>
<circle cx="665.50" cy="603.20" r="1.9" fill="#8c564b"/>
<text x="325.9" y="581.8" font-size="11" fill="#222" text-anchor="middle" textLength="133.8" lengthAdjust="spacingAndGlyphs" transform="rotate(-90 325.9 581.8)">Change in gene expression</text>
<text x="337.3" y="581.8" font-size="11" fill="#222" text-anchor="middle" textLength="142.4" lengthAdjust="spacingAndGlyphs" transform="rotate(-90 337.3 581.8)">over control (log-normalized</text>
<text x="347.8" y="581.8" font-size="11" fill="#222" text-anchor="middle" textLength="37.3" lengthAdjust="spacingAndGlyphs" transform="rotate(-90 347.8 581.8)">counts)</text>
</svg></body></html>
